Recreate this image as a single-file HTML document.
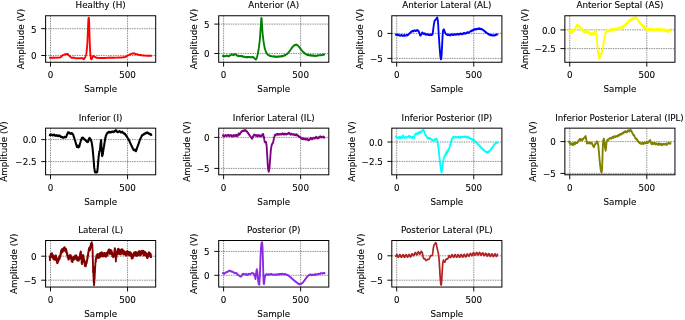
<!DOCTYPE html>
<html><head><meta charset="utf-8"><title>ECG classes</title>
<style>html,body{margin:0;padding:0;background:#fff}svg{display:block}</style></head>
<body>
<svg width="685" height="320" viewBox="0 0 685 320" font-family="'DejaVu Sans', 'Liberation Sans', sans-serif" font-size="8.75" fill="#000"><style>text{stroke:#000;stroke-width:0.1px;paint-order:stroke}</style>
<rect width="685" height="320" fill="#fff"/>
<g>
<path d="M50.50 15.75V62.25M127.55 15.75V62.25M45.60 28.70H155.70M45.60 55.50H155.70" stroke="#000" stroke-opacity="0.8" stroke-width="0.55" stroke-dasharray="1.5 0.9" fill="none"/>
<path d="M49.99 57.73 L50.14 57.70 L50.30 57.79 L50.45 57.68 L50.61 57.77 L50.76 57.73 L50.91 57.67 L51.07 57.75 L51.22 57.66 L51.38 57.73 L51.53 57.66 L51.68 57.66 L51.84 57.72 L51.99 57.80 L52.15 57.66 L52.30 57.67 L52.45 57.75 L52.61 57.81 L52.76 57.74 L52.92 57.70 L53.07 57.81 L53.22 57.62 L53.38 57.78 L53.53 57.67 L53.69 57.63 L53.84 57.63 L53.99 57.66 L54.15 57.76 L54.30 57.63 L54.46 57.71 L54.61 57.72 L54.76 57.66 L54.92 57.69 L55.07 57.59 L55.23 57.59 L55.38 57.62 L55.53 57.71 L55.69 57.66 L55.84 57.63 L56.00 57.68 L56.15 57.65 L56.30 57.62 L56.46 57.72 L56.61 57.69 L56.77 57.60 L56.92 57.66 L57.07 57.65 L57.23 57.72 L57.38 57.69 L57.54 57.60 L57.69 57.73 L57.84 57.56 L58.00 57.61 L58.15 57.68 L58.31 57.56 L58.46 57.62 L58.61 57.53 L58.77 57.65 L58.92 57.67 L59.08 57.63 L59.23 57.69 L59.38 57.57 L59.54 57.64 L59.69 57.60 L59.85 57.52 L60.00 57.42 L60.15 57.42 L60.31 57.36 L60.46 57.19 L60.62 57.15 L60.77 56.95 L60.92 57.00 L61.08 56.85 L61.23 56.74 L61.39 56.53 L61.54 56.25 L61.69 56.09 L61.85 55.97 L62.00 55.67 L62.16 55.59 L62.31 55.46 L62.46 55.38 L62.62 55.29 L62.77 55.36 L62.93 55.16 L63.08 55.12 L63.23 55.07 L63.39 55.10 L63.54 54.87 L63.70 54.87 L63.85 54.82 L64.00 54.81 L64.16 54.73 L64.31 54.66 L64.47 54.48 L64.62 54.43 L64.77 54.38 L64.93 54.46 L65.08 54.44 L65.24 54.25 L65.39 54.23 L65.54 54.21 L65.70 54.17 L65.85 54.19 L66.01 54.18 L66.16 54.09 L66.31 54.01 L66.47 54.07 L66.62 54.04 L66.78 54.06 L66.93 54.12 L67.08 54.05 L67.24 53.99 L67.39 53.99 L67.55 53.99 L67.70 53.93 L67.85 54.28 L68.01 54.43 L68.16 54.62 L68.32 54.78 L68.47 54.88 L68.62 55.06 L68.78 55.17 L68.93 55.44 L69.09 55.48 L69.24 55.63 L69.39 55.81 L69.55 55.96 L69.70 56.15 L69.86 56.24 L70.01 56.39 L70.16 56.57 L70.32 56.72 L70.47 56.92 L70.63 56.94 L70.78 57.20 L70.93 57.24 L71.09 57.24 L71.24 57.36 L71.40 57.47 L71.55 57.56 L71.70 57.61 L71.86 57.85 L72.01 57.97 L72.17 57.92 L72.32 57.89 L72.47 57.78 L72.63 57.76 L72.78 57.77 L72.94 57.73 L73.09 57.81 L73.24 57.64 L73.40 57.59 L73.55 57.74 L73.71 57.63 L73.86 57.55 L74.01 57.67 L74.17 57.61 L74.32 57.75 L74.48 57.88 L74.63 57.90 L74.78 57.91 L74.94 57.86 L75.09 57.92 L75.25 57.92 L75.40 58.09 L75.55 58.08 L75.71 58.17 L75.86 58.12 L76.02 58.14 L76.17 58.30 L76.32 58.37 L76.48 58.34 L76.63 58.33 L76.79 58.33 L76.94 58.32 L77.09 58.21 L77.25 58.27 L77.40 58.24 L77.56 58.17 L77.71 58.17 L77.86 58.22 L78.02 58.22 L78.17 58.31 L78.33 58.36 L78.48 58.26 L78.63 58.36 L78.79 58.37 L78.94 58.36 L79.10 58.24 L79.25 58.21 L79.40 58.21 L79.56 58.21 L79.71 58.21 L79.87 58.29 L80.02 58.35 L80.17 58.34 L80.33 58.26 L80.48 58.30 L80.64 58.33 L80.79 58.19 L80.94 58.31 L81.10 58.36 L81.25 58.34 L81.41 58.33 L81.56 58.28 L81.71 58.22 L81.87 58.35 L82.02 58.26 L82.18 58.35 L82.33 58.39 L82.48 58.28 L82.64 58.28 L82.79 58.39 L82.95 58.39 L83.10 58.47 L83.25 58.65 L83.41 58.84 L83.56 59.18 L83.72 59.35 L83.87 59.24 L84.02 59.14 L84.18 58.94 L84.33 58.64 L84.49 58.35 L84.64 58.15 L84.79 57.81 L84.95 57.52 L85.10 57.45 L85.26 57.12 L85.41 56.67 L85.56 56.26 L85.72 55.67 L85.87 55.27 L86.03 54.76 L86.18 54.15 L86.33 53.66 L86.49 52.65 L86.64 51.19 L86.80 49.80 L86.95 48.28 L87.10 46.86 L87.26 45.35 L87.41 42.33 L87.57 38.36 L87.72 34.53 L87.87 30.69 L88.03 27.35 L88.18 23.95 L88.34 20.74 L88.49 18.13 L88.64 17.87 L88.80 17.60 L88.95 18.98 L89.11 20.57 L89.26 25.12 L89.41 30.91 L89.57 36.89 L89.72 40.91 L89.88 44.70 L90.03 48.48 L90.18 52.17 L90.34 53.76 L90.49 55.24 L90.65 56.68 L90.80 58.16 L90.95 58.95 L91.11 59.10 L91.26 59.11 L91.42 59.18 L91.57 59.34 L91.72 59.00 L91.88 58.64 L92.03 58.32 L92.19 57.98 L92.34 57.52 L92.49 57.28 L92.65 57.04 L92.80 56.81 L92.96 56.63 L93.11 56.35 L93.26 56.15 L93.42 55.91 L93.57 55.96 L93.73 56.05 L93.88 56.23 L94.03 56.38 L94.19 56.38 L94.34 56.58 L94.50 56.79 L94.65 56.90 L94.80 56.84 L94.96 56.93 L95.11 57.08 L95.27 57.09 L95.42 57.22 L95.57 57.27 L95.73 57.48 L95.88 57.59 L96.04 57.69 L96.19 57.56 L96.34 57.69 L96.50 57.70 L96.65 57.62 L96.81 57.79 L96.96 57.83 L97.11 57.70 L97.27 57.87 L97.42 57.78 L97.58 57.82 L97.73 57.94 L97.88 57.93 L98.04 57.82 L98.19 57.89 L98.35 57.93 L98.50 57.92 L98.65 57.91 L98.81 57.96 L98.96 58.06 L99.12 57.94 L99.27 58.07 L99.42 58.07 L99.58 58.00 L99.73 58.06 L99.89 58.12 L100.04 58.09 L100.19 57.99 L100.35 58.17 L100.50 58.13 L100.66 58.16 L100.81 57.98 L100.96 58.01 L101.12 57.96 L101.27 58.10 L101.43 57.99 L101.58 57.96 L101.73 58.01 L101.89 58.11 L102.04 58.08 L102.20 57.97 L102.35 57.94 L102.50 58.09 L102.66 58.01 L102.81 58.03 L102.97 57.91 L103.12 57.90 L103.27 58.02 L103.43 57.96 L103.58 57.88 L103.74 58.05 L103.89 57.99 L104.04 58.01 L104.20 57.87 L104.35 58.01 L104.51 57.85 L104.66 58.01 L104.81 57.92 L104.97 57.89 L105.12 57.93 L105.28 58.00 L105.43 57.86 L105.58 57.83 L105.74 57.90 L105.89 57.84 L106.05 57.81 L106.20 57.81 L106.35 57.79 L106.51 57.81 L106.66 57.83 L106.82 57.82 L106.97 57.91 L107.12 57.81 L107.28 57.85 L107.43 57.78 L107.59 57.80 L107.74 57.73 L107.89 57.78 L108.05 57.72 L108.20 57.86 L108.36 57.82 L108.51 57.74 L108.66 57.79 L108.82 57.88 L108.97 57.71 L109.13 57.85 L109.28 57.77 L109.43 57.77 L109.59 57.84 L109.74 57.75 L109.90 57.77 L110.05 57.80 L110.20 57.86 L110.36 57.72 L110.51 57.82 L110.67 57.79 L110.82 57.78 L110.97 57.73 L111.13 57.71 L111.28 57.65 L111.44 57.66 L111.59 57.65 L111.74 57.78 L111.90 57.68 L112.05 57.66 L112.21 57.64 L112.36 57.79 L112.51 57.79 L112.67 57.75 L112.82 57.67 L112.98 57.66 L113.13 57.67 L113.28 57.70 L113.44 57.64 L113.59 57.69 L113.75 57.65 L113.90 57.79 L114.05 57.79 L114.21 57.70 L114.36 57.64 L114.52 57.78 L114.67 57.65 L114.82 57.65 L114.98 57.58 L115.13 57.65 L115.29 57.67 L115.44 57.67 L115.59 57.61 L115.75 57.67 L115.90 57.56 L116.06 57.61 L116.21 57.58 L116.36 57.64 L116.52 57.56 L116.67 57.56 L116.83 57.61 L116.98 57.59 L117.13 57.66 L117.29 57.65 L117.44 57.69 L117.60 57.67 L117.75 57.68 L117.90 57.71 L118.06 57.61 L118.21 57.59 L118.37 57.72 L118.52 57.55 L118.67 57.66 L118.83 57.64 L118.98 57.52 L119.14 57.68 L119.29 57.69 L119.44 57.63 L119.60 57.65 L119.75 57.65 L119.91 57.51 L120.06 57.57 L120.21 57.56 L120.37 57.62 L120.52 57.60 L120.68 57.59 L120.83 57.53 L120.98 57.59 L121.14 57.53 L121.29 57.53 L121.45 57.42 L121.60 57.37 L121.75 57.38 L121.91 57.42 L122.06 57.36 L122.22 57.49 L122.37 57.43 L122.52 57.43 L122.68 57.42 L122.83 57.42 L122.99 57.37 L123.14 57.26 L123.29 57.41 L123.45 57.39 L123.60 57.33 L123.76 57.33 L123.91 57.34 L124.06 57.22 L124.22 57.34 L124.37 57.23 L124.53 57.19 L124.68 57.15 L124.83 57.16 L124.99 56.98 L125.14 57.00 L125.30 56.97 L125.45 56.79 L125.60 56.68 L125.76 56.62 L125.91 56.58 L126.07 56.51 L126.22 56.40 L126.37 56.32 L126.53 56.13 L126.68 56.06 L126.84 56.00 L126.99 56.02 L127.14 55.85 L127.30 55.82 L127.45 55.62 L127.61 55.55 L127.76 55.51 L127.91 55.51 L128.07 55.43 L128.22 55.35 L128.38 55.19 L128.53 55.15 L128.68 55.06 L128.84 54.98 L128.99 54.82 L129.15 54.90 L129.30 54.68 L129.45 54.75 L129.61 54.67 L129.76 54.42 L129.92 54.45 L130.07 54.46 L130.22 54.43 L130.38 54.26 L130.53 54.16 L130.69 54.09 L130.84 54.18 L130.99 53.97 L131.15 53.98 L131.30 53.83 L131.46 53.85 L131.61 53.87 L131.76 53.64 L131.92 53.72 L132.07 53.61 L132.23 53.67 L132.38 53.62 L132.53 53.51 L132.69 53.62 L132.84 53.53 L133.00 53.42 L133.15 53.40 L133.30 53.48 L133.46 53.46 L133.61 53.41 L133.77 53.39 L133.92 53.47 L134.07 53.51 L134.23 53.65 L134.38 53.52 L134.54 53.72 L134.69 53.77 L134.84 53.67 L135.00 53.87 L135.15 53.87 L135.31 53.95 L135.46 53.87 L135.61 53.93 L135.77 53.97 L135.92 54.13 L136.08 54.09 L136.23 54.09 L136.38 54.14 L136.54 54.15 L136.69 54.14 L136.85 54.19 L137.00 54.38 L137.15 54.30 L137.31 54.47 L137.46 54.37 L137.62 54.42 L137.77 54.50 L137.92 54.48 L138.08 54.55 L138.23 54.71 L138.39 54.73 L138.54 54.76 L138.69 54.76 L138.85 54.85 L139.00 54.90 L139.16 54.86 L139.31 54.93 L139.46 54.83 L139.62 55.00 L139.77 54.97 L139.93 55.05 L140.08 55.05 L140.23 55.00 L140.39 54.98 L140.54 55.18 L140.70 55.04 L140.85 55.13 L141.00 55.13 L141.16 55.14 L141.31 55.26 L141.47 55.33 L141.62 55.21 L141.77 55.31 L141.93 55.26 L142.08 55.34 L142.24 55.33 L142.39 55.30 L142.54 55.33 L142.70 55.36 L142.85 55.52 L143.01 55.45 L143.16 55.40 L143.31 55.55 L143.47 55.58 L143.62 55.48 L143.78 55.43 L143.93 55.45 L144.08 55.44 L144.24 55.50 L144.39 55.46 L144.55 55.50 L144.70 55.51 L144.85 55.59 L145.01 55.66 L145.16 55.64 L145.32 55.59 L145.47 55.60 L145.62 55.63 L145.78 55.61 L145.93 55.61 L146.09 55.57 L146.24 55.62 L146.39 55.77 L146.55 55.61 L146.70 55.70 L146.86 55.73 L147.01 55.79 L147.16 55.67 L147.32 55.69 L147.47 55.70 L147.63 55.74 L147.78 55.76 L147.93 55.86 L148.09 55.84 L148.24 55.85 L148.40 55.68 L148.55 55.68 L148.70 55.81 L148.86 55.85 L149.01 55.77 L149.17 55.79 L149.32 55.67 L149.47 55.75 L149.63 55.86 L149.78 55.84 L149.94 55.84 L150.09 55.87 L150.24 55.72 L150.40 55.69 L150.55 55.70 L150.71 55.78 L150.86 55.81 L151.01 55.86 L151.17 55.82" stroke="#ff0000" stroke-width="1.85" fill="none" stroke-linejoin="round" stroke-linecap="square"/>
<path d="M50.50 62.25v4.4M127.55 62.25v4.4M45.60 28.70h-4.4M45.60 55.50h-4.4" stroke="#000" stroke-width="0.95" fill="none"/>
<rect x="45.60" y="15.75" width="110.10" height="46.50" fill="none" stroke="#000" stroke-width="1.0"/>
<text x="50.50" y="78.35" text-anchor="middle">0</text>
<text x="127.55" y="78.35" text-anchor="middle">500</text>
<text x="36.60" y="32.50" text-anchor="end">5</text>
<text x="36.60" y="59.30" text-anchor="end">0</text>
<text x="100.65" y="8.35" text-anchor="middle">Healthy (H)</text>
<text x="100.65" y="92.25" text-anchor="middle">Sample</text>
<text transform="translate(23.63 39.00) rotate(-90)" text-anchor="middle">Amplitude (V)</text>
</g>
<g>
<path d="M223.60 15.75V62.25M300.65 15.75V62.25M218.70 24.10H328.80M218.70 53.50H328.80" stroke="#000" stroke-opacity="0.8" stroke-width="0.55" stroke-dasharray="1.5 0.9" fill="none"/>
<path d="M222.99 56.00 L223.14 56.07 L223.30 55.97 L223.45 56.03 L223.61 55.85 L223.76 56.17 L223.91 55.97 L224.07 56.27 L224.22 56.19 L224.38 56.07 L224.53 56.03 L224.68 56.10 L224.84 56.28 L224.99 56.33 L225.15 56.12 L225.30 56.04 L225.45 56.16 L225.61 56.12 L225.76 55.98 L225.92 55.86 L226.07 55.95 L226.22 55.65 L226.38 55.70 L226.53 55.70 L226.69 55.84 L226.84 55.67 L226.99 55.85 L227.15 55.76 L227.30 55.74 L227.46 55.82 L227.61 56.19 L227.76 56.16 L227.92 56.08 L228.07 56.04 L228.23 56.31 L228.38 56.46 L228.53 56.37 L228.69 56.20 L228.84 56.25 L229.00 56.25 L229.15 55.86 L229.30 55.68 L229.46 55.69 L229.61 55.62 L229.77 55.61 L229.92 55.31 L230.07 55.44 L230.23 55.32 L230.38 55.13 L230.54 54.92 L230.69 55.13 L230.84 54.78 L231.00 54.89 L231.15 54.56 L231.31 54.47 L231.46 54.59 L231.61 54.31 L231.77 54.48 L231.92 54.33 L232.08 54.28 L232.23 54.37 L232.38 54.53 L232.54 54.70 L232.69 54.89 L232.85 54.65 L233.00 54.83 L233.15 54.83 L233.31 55.21 L233.46 54.96 L233.62 54.84 L233.77 54.75 L233.92 54.79 L234.08 54.90 L234.23 54.81 L234.39 54.65 L234.54 54.67 L234.69 54.55 L234.85 54.21 L235.00 54.06 L235.16 54.29 L235.31 54.33 L235.46 54.15 L235.62 54.51 L235.77 54.50 L235.93 54.61 L236.08 54.70 L236.23 54.74 L236.39 54.78 L236.54 55.00 L236.70 55.14 L236.85 55.48 L237.00 55.22 L237.16 55.64 L237.31 55.41 L237.47 55.55 L237.62 55.81 L237.77 55.89 L237.93 55.81 L238.08 55.73 L238.24 55.98 L238.39 56.02 L238.54 56.27 L238.70 55.97 L238.85 56.03 L239.01 56.23 L239.16 55.87 L239.31 56.01 L239.47 56.16 L239.62 56.13 L239.78 55.83 L239.93 55.82 L240.08 55.82 L240.24 56.16 L240.39 55.88 L240.55 56.07 L240.70 56.12 L240.85 55.88 L241.01 55.86 L241.16 56.17 L241.32 56.08 L241.47 55.98 L241.62 56.20 L241.78 56.08 L241.93 56.11 L242.09 56.04 L242.24 56.38 L242.39 56.49 L242.55 56.41 L242.70 56.58 L242.86 56.25 L243.01 56.38 L243.16 56.52 L243.32 56.75 L243.47 56.79 L243.63 56.60 L243.78 56.59 L243.93 56.70 L244.09 56.77 L244.24 56.98 L244.40 56.73 L244.55 57.02 L244.70 57.03 L244.86 57.11 L245.01 57.13 L245.17 57.10 L245.32 57.03 L245.47 57.07 L245.63 57.13 L245.78 57.34 L245.94 57.10 L246.09 57.13 L246.24 57.33 L246.40 57.11 L246.55 57.02 L246.71 56.98 L246.86 57.17 L247.01 57.06 L247.17 57.30 L247.32 57.24 L247.48 57.26 L247.63 56.95 L247.78 56.86 L247.94 56.84 L248.09 56.98 L248.25 57.05 L248.40 56.92 L248.55 56.84 L248.71 56.94 L248.86 57.04 L249.02 57.08 L249.17 57.13 L249.32 57.19 L249.48 57.14 L249.63 56.94 L249.79 57.25 L249.94 57.05 L250.09 57.18 L250.25 57.13 L250.40 57.29 L250.56 57.10 L250.71 57.14 L250.86 57.16 L251.02 57.12 L251.17 57.39 L251.33 57.24 L251.48 57.11 L251.63 57.11 L251.79 57.33 L251.94 57.11 L252.10 56.97 L252.25 57.18 L252.40 57.09 L252.56 57.20 L252.71 56.82 L252.87 56.94 L253.02 57.12 L253.17 57.26 L253.33 57.41 L253.48 57.18 L253.64 57.41 L253.79 57.46 L253.94 57.61 L254.10 58.05 L254.25 58.02 L254.41 58.28 L254.56 58.18 L254.71 58.52 L254.87 58.51 L255.02 58.58 L255.18 58.95 L255.33 59.17 L255.48 58.98 L255.64 59.33 L255.79 59.50 L255.95 59.48 L256.10 59.23 L256.25 58.83 L256.41 58.55 L256.56 58.26 L256.72 58.09 L256.87 57.80 L257.02 57.11 L257.18 56.34 L257.33 55.77 L257.49 55.22 L257.64 54.33 L257.79 53.69 L257.95 52.94 L258.10 52.28 L258.26 51.28 L258.41 50.19 L258.56 49.30 L258.72 48.52 L258.87 47.69 L259.03 46.60 L259.18 45.10 L259.33 43.85 L259.49 42.77 L259.64 41.38 L259.80 40.04 L259.95 38.68 L260.10 36.62 L260.26 34.06 L260.41 31.85 L260.57 29.46 L260.72 26.97 L260.87 24.59 L261.03 22.07 L261.18 19.25 L261.34 18.01 L261.49 17.96 L261.64 19.61 L261.80 21.56 L261.95 24.31 L262.11 26.51 L262.26 28.88 L262.41 30.65 L262.57 32.77 L262.72 34.53 L262.88 35.97 L263.03 37.11 L263.18 38.52 L263.34 39.75 L263.49 41.06 L263.65 41.93 L263.80 43.10 L263.95 43.84 L264.11 44.74 L264.26 45.44 L264.42 46.34 L264.57 47.27 L264.72 48.28 L264.88 48.58 L265.03 49.19 L265.19 49.76 L265.34 50.27 L265.49 50.42 L265.65 50.84 L265.80 51.61 L265.96 52.07 L266.11 52.18 L266.26 52.25 L266.42 52.85 L266.57 52.89 L266.73 53.34 L266.88 53.48 L267.03 53.81 L267.19 53.79 L267.34 54.29 L267.50 54.31 L267.65 54.59 L267.80 54.85 L267.96 54.93 L268.11 54.75 L268.27 54.85 L268.42 55.00 L268.57 55.13 L268.73 55.16 L268.88 55.14 L269.04 55.27 L269.19 55.55 L269.34 55.70 L269.50 55.44 L269.65 55.73 L269.81 55.89 L269.96 55.69 L270.11 56.08 L270.27 55.82 L270.42 56.05 L270.58 56.06 L270.73 56.12 L270.88 56.02 L271.04 56.10 L271.19 56.19 L271.35 56.16 L271.50 56.28 L271.65 56.23 L271.81 56.26 L271.96 56.12 L272.12 56.39 L272.27 56.37 L272.42 56.30 L272.58 56.54 L272.73 56.58 L272.89 56.48 L273.04 56.40 L273.19 56.55 L273.35 56.43 L273.50 56.46 L273.66 56.59 L273.81 56.46 L273.96 56.60 L274.12 56.64 L274.27 56.45 L274.43 56.70 L274.58 56.48 L274.73 56.75 L274.89 56.77 L275.04 56.67 L275.20 56.50 L275.35 56.68 L275.50 56.64 L275.66 56.87 L275.81 56.55 L275.97 56.85 L276.12 56.91 L276.27 56.81 L276.43 56.85 L276.58 56.61 L276.74 56.93 L276.89 56.74 L277.04 56.93 L277.20 56.92 L277.35 56.63 L277.51 56.88 L277.66 56.93 L277.81 56.57 L277.97 56.66 L278.12 56.81 L278.28 56.55 L278.43 56.83 L278.58 56.56 L278.74 56.76 L278.89 56.47 L279.05 56.60 L279.20 56.74 L279.35 56.44 L279.51 56.44 L279.66 56.52 L279.82 56.43 L279.97 56.30 L280.12 56.34 L280.28 56.31 L280.43 56.60 L280.59 56.48 L280.74 56.55 L280.89 56.24 L281.05 56.47 L281.20 56.18 L281.36 56.33 L281.51 56.35 L281.66 56.22 L281.82 56.40 L281.97 56.22 L282.13 56.19 L282.28 56.26 L282.43 55.90 L282.59 56.21 L282.74 56.02 L282.90 55.88 L283.05 56.00 L283.20 55.74 L283.36 55.98 L283.51 55.77 L283.67 55.64 L283.82 55.75 L283.97 55.58 L284.13 55.43 L284.28 55.61 L284.44 55.28 L284.59 55.54 L284.74 55.27 L284.90 55.38 L285.05 55.47 L285.21 55.21 L285.36 55.14 L285.51 54.90 L285.67 54.67 L285.82 54.58 L285.98 54.53 L286.13 54.61 L286.28 54.43 L286.44 54.36 L286.59 54.41 L286.75 54.01 L286.90 53.94 L287.05 54.01 L287.21 53.65 L287.36 53.54 L287.52 53.58 L287.67 53.32 L287.82 53.24 L287.98 53.00 L288.13 52.96 L288.29 52.78 L288.44 52.44 L288.59 52.42 L288.75 52.18 L288.90 51.85 L289.06 51.99 L289.21 51.53 L289.36 51.31 L289.52 51.10 L289.67 51.13 L289.83 51.04 L289.98 50.82 L290.13 50.46 L290.29 50.17 L290.44 49.83 L290.60 49.84 L290.75 49.57 L290.90 49.25 L291.06 49.13 L291.21 48.82 L291.37 48.78 L291.52 48.46 L291.67 48.03 L291.83 48.05 L291.98 47.47 L292.14 47.43 L292.29 47.18 L292.44 46.96 L292.60 46.73 L292.75 46.87 L292.91 46.41 L293.06 46.47 L293.21 46.47 L293.37 46.00 L293.52 45.86 L293.68 45.87 L293.83 45.68 L293.98 45.58 L294.14 45.49 L294.29 45.13 L294.45 45.14 L294.60 45.08 L294.75 44.93 L294.91 45.21 L295.06 45.12 L295.22 45.04 L295.37 44.71 L295.52 44.99 L295.68 44.90 L295.83 44.74 L295.99 44.80 L296.14 44.63 L296.29 44.55 L296.45 44.59 L296.60 44.73 L296.76 44.73 L296.91 44.93 L297.06 45.18 L297.22 45.25 L297.37 45.39 L297.53 45.42 L297.68 45.33 L297.83 45.53 L297.99 45.56 L298.14 45.85 L298.30 45.94 L298.45 46.03 L298.60 46.37 L298.76 46.70 L298.91 46.59 L299.07 47.05 L299.22 46.89 L299.37 47.18 L299.53 47.37 L299.68 47.76 L299.84 48.03 L299.99 48.15 L300.14 48.18 L300.30 48.60 L300.45 48.58 L300.61 48.75 L300.76 49.22 L300.91 49.31 L301.07 49.53 L301.22 49.72 L301.38 50.05 L301.53 50.05 L301.68 50.40 L301.84 50.54 L301.99 50.81 L302.15 50.84 L302.30 51.13 L302.45 51.22 L302.61 51.27 L302.76 51.39 L302.92 51.70 L303.07 51.64 L303.22 52.13 L303.38 51.97 L303.53 52.08 L303.69 52.27 L303.84 52.75 L303.99 52.67 L304.15 52.74 L304.30 52.85 L304.46 53.01 L304.61 53.39 L304.76 53.46 L304.92 53.57 L305.07 53.67 L305.23 53.49 L305.38 53.79 L305.53 53.78 L305.69 54.05 L305.84 54.14 L306.00 54.25 L306.15 54.01 L306.30 54.42 L306.46 54.52 L306.61 54.62 L306.77 54.37 L306.92 54.50 L307.07 54.55 L307.23 54.59 L307.38 54.96 L307.54 54.98 L307.69 54.94 L307.84 55.06 L308.00 55.01 L308.15 54.91 L308.31 54.87 L308.46 54.91 L308.61 55.21 L308.77 55.02 L308.92 55.11 L309.08 55.18 L309.23 55.06 L309.38 55.19 L309.54 55.24 L309.69 55.45 L309.85 55.34 L310.00 55.36 L310.15 55.63 L310.31 55.45 L310.46 55.60 L310.62 55.52 L310.77 55.29 L310.92 55.45 L311.08 55.47 L311.23 55.61 L311.39 55.45 L311.54 55.60 L311.69 55.54 L311.85 55.42 L312.00 55.68 L312.16 55.38 L312.31 55.68 L312.46 55.43 L312.62 55.37 L312.77 55.46 L312.93 55.69 L313.08 55.78 L313.23 55.40 L313.39 55.61 L313.54 55.63 L313.70 55.77 L313.85 55.55 L314.00 55.69 L314.16 55.65 L314.31 55.87 L314.47 55.66 L314.62 55.95 L314.77 55.71 L314.93 55.70 L315.08 55.92 L315.24 55.86 L315.39 55.72 L315.54 55.95 L315.70 55.75 L315.85 56.05 L316.01 55.98 L316.16 55.97 L316.31 55.87 L316.47 55.72 L316.62 55.69 L316.78 55.65 L316.93 55.81 L317.08 55.45 L317.24 55.73 L317.39 55.34 L317.55 55.37 L317.70 55.35 L317.85 55.57 L318.01 55.36 L318.16 55.28 L318.32 55.44 L318.47 55.17 L318.62 55.26 L318.78 55.29 L318.93 55.37 L319.09 55.37 L319.24 55.33 L319.39 55.21 L319.55 55.20 L319.70 55.14 L319.86 55.41 L320.01 55.34 L320.16 55.37 L320.32 55.14 L320.47 55.25 L320.63 55.38 L320.78 55.30 L320.93 55.10 L321.09 55.19 L321.24 55.32 L321.40 55.02 L321.55 54.96 L321.70 54.97 L321.86 55.08 L322.01 55.10 L322.17 54.78 L322.32 54.74 L322.47 54.74 L322.63 54.73 L322.78 54.77 L322.94 54.58 L323.09 54.61 L323.24 54.51 L323.40 54.80 L323.55 54.70 L323.71 54.45 L323.86 54.79 L324.01 54.45 L324.17 54.56" stroke="#008000" stroke-width="1.85" fill="none" stroke-linejoin="round" stroke-linecap="square"/>
<path d="M223.60 62.25v4.4M300.65 62.25v4.4M218.70 24.10h-4.4M218.70 53.50h-4.4" stroke="#000" stroke-width="0.95" fill="none"/>
<rect x="218.70" y="15.75" width="110.10" height="46.50" fill="none" stroke="#000" stroke-width="1.0"/>
<text x="223.60" y="78.35" text-anchor="middle">0</text>
<text x="300.65" y="78.35" text-anchor="middle">500</text>
<text x="209.70" y="27.90" text-anchor="end">5</text>
<text x="209.70" y="57.30" text-anchor="end">0</text>
<text x="273.75" y="8.35" text-anchor="middle">Anterior (A)</text>
<text x="273.75" y="92.25" text-anchor="middle">Sample</text>
<text transform="translate(196.73 39.00) rotate(-90)" text-anchor="middle">Amplitude (V)</text>
</g>
<g>
<path d="M396.70 15.75V62.25M473.75 15.75V62.25M391.80 33.40H501.90M391.80 58.40H501.90" stroke="#000" stroke-opacity="0.8" stroke-width="0.55" stroke-dasharray="1.5 0.9" fill="none"/>
<path d="M395.99 34.59 L396.14 34.60 L396.30 34.67 L396.45 34.61 L396.61 34.58 L396.76 34.96 L396.91 34.76 L397.07 34.94 L397.22 35.16 L397.38 35.00 L397.53 35.14 L397.68 35.30 L397.84 35.16 L397.99 34.97 L398.15 34.97 L398.30 34.79 L398.45 34.52 L398.61 34.72 L398.76 34.67 L398.92 35.01 L399.07 35.25 L399.22 35.09 L399.38 35.32 L399.53 35.56 L399.69 35.49 L399.84 35.51 L399.99 35.93 L400.15 35.93 L400.30 35.77 L400.46 35.63 L400.61 35.62 L400.76 35.42 L400.92 35.30 L401.07 35.09 L401.23 34.91 L401.38 35.09 L401.53 34.89 L401.69 35.20 L401.84 35.53 L402.00 35.61 L402.15 35.67 L402.30 35.56 L402.46 35.78 L402.61 35.91 L402.77 35.97 L402.92 35.74 L403.07 35.81 L403.23 35.86 L403.38 35.32 L403.54 35.50 L403.69 35.48 L403.84 35.15 L404.00 35.14 L404.15 35.51 L404.31 35.02 L404.46 35.40 L404.61 35.25 L404.77 35.70 L404.92 35.87 L405.08 35.70 L405.23 35.52 L405.38 35.80 L405.54 35.68 L405.69 35.69 L405.85 35.47 L406.00 35.45 L406.15 35.47 L406.31 35.19 L406.46 35.03 L406.62 35.25 L406.77 34.83 L406.92 35.15 L407.08 35.01 L407.23 35.27 L407.39 34.93 L407.54 35.48 L407.69 35.15 L407.85 35.01 L408.00 35.13 L408.16 35.01 L408.31 34.59 L408.46 34.64 L408.62 34.45 L408.77 34.42 L408.93 34.02 L409.08 33.78 L409.23 33.56 L409.39 33.70 L409.54 33.66 L409.70 33.26 L409.85 32.92 L410.00 33.12 L410.16 32.72 L410.31 32.46 L410.47 32.25 L410.62 32.49 L410.77 32.35 L410.93 32.09 L411.08 31.84 L411.24 31.74 L411.39 31.39 L411.54 31.68 L411.70 31.16 L411.85 31.17 L412.01 31.18 L412.16 31.21 L412.31 31.04 L412.47 30.98 L412.62 31.17 L412.78 30.95 L412.93 31.42 L413.08 31.17 L413.24 31.50 L413.39 31.09 L413.55 31.03 L413.70 30.83 L413.85 30.80 L414.01 30.53 L414.16 30.29 L414.32 30.61 L414.47 30.39 L414.62 30.40 L414.78 30.48 L414.93 30.62 L415.09 30.63 L415.24 30.79 L415.39 30.85 L415.55 30.71 L415.70 31.04 L415.86 30.94 L416.01 30.40 L416.16 30.80 L416.32 30.79 L416.47 30.66 L416.63 30.22 L416.78 30.58 L416.93 30.40 L417.09 30.05 L417.24 30.09 L417.40 30.69 L417.55 30.55 L417.70 30.35 L417.86 30.30 L418.01 30.36 L418.17 30.45 L418.32 30.87 L418.47 30.92 L418.63 31.11 L418.78 31.87 L418.94 32.11 L419.09 32.04 L419.24 32.78 L419.40 33.03 L419.55 33.60 L419.71 33.99 L419.86 34.59 L420.01 34.99 L420.17 35.48 L420.32 35.41 L420.48 35.50 L420.63 35.20 L420.78 35.12 L420.94 34.73 L421.09 34.79 L421.25 34.39 L421.40 33.97 L421.55 33.70 L421.71 33.38 L421.86 33.34 L422.02 32.82 L422.17 32.81 L422.32 32.47 L422.48 32.83 L422.63 32.99 L422.79 33.16 L422.94 33.51 L423.09 33.15 L423.25 33.81 L423.40 33.74 L423.56 33.95 L423.71 34.05 L423.86 34.11 L424.02 33.80 L424.17 33.78 L424.33 34.07 L424.48 33.50 L424.63 33.80 L424.79 33.76 L424.94 33.36 L425.10 33.82 L425.25 33.97 L425.40 34.24 L425.56 33.99 L425.71 34.50 L425.87 34.33 L426.02 34.43 L426.17 34.80 L426.33 34.34 L426.48 34.69 L426.64 34.58 L426.79 34.35 L426.94 34.60 L427.10 34.25 L427.25 34.26 L427.41 34.23 L427.56 34.32 L427.71 34.04 L427.87 34.29 L428.02 34.40 L428.18 34.59 L428.33 34.87 L428.48 34.67 L428.64 35.10 L428.79 34.97 L428.95 35.14 L429.10 34.92 L429.25 34.98 L429.41 35.19 L429.56 34.92 L429.72 34.92 L429.87 34.57 L430.02 34.48 L430.18 34.40 L430.33 34.55 L430.49 34.66 L430.64 34.82 L430.79 34.45 L430.95 34.94 L431.10 35.12 L431.26 34.99 L431.41 34.77 L431.56 35.00 L431.72 34.71 L431.87 34.64 L432.03 34.90 L432.18 34.53 L432.33 34.38 L432.49 34.28 L432.64 33.93 L432.80 32.59 L432.95 31.44 L433.10 30.29 L433.26 29.18 L433.41 27.96 L433.57 26.86 L433.72 25.42 L433.87 24.54 L434.03 23.55 L434.18 23.05 L434.34 21.98 L434.49 21.35 L434.64 20.59 L434.80 20.46 L434.95 20.42 L435.11 20.15 L435.26 19.85 L435.41 20.00 L435.57 19.85 L435.72 19.55 L435.88 19.18 L436.03 19.02 L436.18 18.91 L436.34 18.66 L436.49 18.54 L436.65 18.49 L436.80 18.48 L436.95 17.76 L437.11 17.89 L437.26 17.39 L437.42 18.12 L437.57 19.23 L437.72 19.78 L437.88 20.68 L438.03 22.35 L438.19 24.65 L438.34 27.44 L438.49 30.13 L438.65 32.91 L438.80 35.50 L438.96 37.72 L439.11 39.99 L439.26 42.11 L439.42 44.75 L439.57 46.80 L439.73 48.74 L439.88 50.58 L440.03 52.50 L440.19 54.83 L440.34 55.90 L440.50 57.37 L440.65 57.80 L440.80 59.24 L440.96 59.33 L441.11 58.30 L441.27 57.76 L441.42 56.51 L441.57 55.85 L441.73 52.66 L441.88 49.50 L442.04 46.85 L442.19 43.73 L442.34 40.74 L442.50 37.58 L442.65 34.71 L442.81 33.39 L442.96 31.80 L443.11 30.25 L443.27 30.30 L443.42 29.66 L443.58 29.86 L443.73 29.48 L443.88 29.28 L444.04 29.59 L444.19 30.28 L444.35 30.69 L444.50 30.63 L444.65 31.23 L444.81 31.95 L444.96 32.07 L445.12 32.95 L445.27 33.15 L445.42 33.05 L445.58 33.39 L445.73 33.66 L445.89 33.74 L446.04 34.03 L446.19 33.87 L446.35 34.41 L446.50 34.27 L446.66 34.53 L446.81 34.61 L446.96 34.57 L447.12 34.64 L447.27 34.96 L447.43 35.15 L447.58 35.14 L447.73 34.97 L447.89 34.77 L448.04 34.59 L448.20 35.10 L448.35 34.90 L448.50 34.94 L448.66 34.60 L448.81 34.73 L448.97 34.95 L449.12 34.94 L449.27 34.88 L449.43 34.78 L449.58 34.93 L449.74 35.28 L449.89 35.05 L450.04 35.31 L450.20 35.34 L450.35 35.46 L450.51 35.29 L450.66 34.86 L450.81 34.58 L450.97 34.62 L451.12 34.60 L451.28 34.58 L451.43 34.60 L451.58 34.54 L451.74 34.11 L451.89 34.66 L452.05 34.73 L452.20 34.84 L452.35 34.74 L452.51 34.63 L452.66 35.06 L452.82 35.11 L452.97 35.04 L453.12 35.08 L453.28 34.65 L453.43 34.39 L453.59 34.58 L453.74 34.63 L453.89 34.17 L454.05 34.41 L454.20 34.42 L454.36 34.04 L454.51 34.34 L454.66 34.46 L454.82 34.41 L454.97 34.33 L455.13 34.43 L455.28 34.81 L455.43 34.91 L455.59 34.77 L455.74 34.47 L455.90 34.82 L456.05 34.73 L456.20 34.33 L456.36 34.46 L456.51 34.57 L456.67 34.49 L456.82 34.19 L456.97 34.09 L457.13 34.08 L457.28 33.80 L457.44 33.85 L457.59 33.89 L457.74 34.24 L457.90 34.09 L458.05 34.25 L458.21 34.20 L458.36 34.32 L458.51 34.14 L458.67 34.13 L458.82 34.75 L458.98 34.36 L459.13 34.12 L459.28 34.36 L459.44 34.37 L459.59 33.92 L459.75 34.10 L459.90 33.88 L460.05 33.90 L460.21 33.53 L460.36 33.46 L460.52 33.96 L460.67 33.89 L460.82 33.71 L460.98 33.80 L461.13 33.67 L461.29 34.02 L461.44 33.86 L461.59 34.22 L461.75 34.15 L461.90 34.23 L462.06 34.36 L462.21 33.98 L462.36 33.78 L462.52 33.78 L462.67 33.68 L462.83 33.53 L462.98 33.42 L463.13 33.63 L463.29 33.72 L463.44 33.38 L463.60 33.58 L463.75 33.47 L463.90 32.88 L464.06 33.23 L464.21 33.14 L464.37 33.01 L464.52 33.54 L464.67 33.15 L464.83 33.36 L464.98 33.44 L465.14 33.66 L465.29 33.52 L465.44 33.39 L465.60 33.41 L465.75 33.15 L465.91 33.54 L466.06 33.46 L466.21 32.91 L466.37 32.71 L466.52 32.74 L466.68 32.71 L466.83 32.95 L466.98 32.86 L467.14 32.72 L467.29 32.21 L467.45 32.67 L467.60 32.64 L467.75 32.61 L467.91 32.83 L468.06 32.29 L468.22 32.36 L468.37 32.74 L468.52 32.87 L468.68 32.73 L468.83 32.51 L468.99 32.61 L469.14 32.59 L469.29 32.07 L469.45 32.08 L469.60 31.92 L469.76 31.72 L469.91 31.81 L470.06 31.50 L470.22 31.41 L470.37 31.23 L470.53 31.43 L470.68 30.96 L470.83 31.32 L470.99 30.95 L471.14 30.79 L471.30 31.27 L471.45 30.78 L471.60 31.15 L471.76 31.04 L471.91 31.00 L472.07 30.48 L472.22 30.61 L472.37 30.30 L472.53 30.71 L472.68 30.57 L472.84 30.34 L472.99 30.15 L473.14 29.99 L473.30 30.18 L473.45 29.88 L473.61 29.88 L473.76 29.50 L473.91 29.47 L474.07 29.34 L474.22 29.70 L474.38 29.58 L474.53 29.30 L474.68 29.70 L474.84 29.31 L474.99 29.37 L475.15 29.18 L475.30 29.22 L475.45 29.53 L475.61 29.20 L475.76 29.07 L475.92 29.23 L476.07 29.10 L476.22 29.42 L476.38 28.91 L476.53 29.40 L476.69 28.82 L476.84 29.29 L476.99 29.12 L477.15 28.82 L477.30 28.95 L477.46 28.80 L477.61 28.75 L477.76 28.69 L477.92 28.75 L478.07 29.10 L478.23 29.07 L478.38 29.00 L478.53 28.47 L478.69 28.56 L478.84 28.89 L479.00 28.41 L479.15 28.84 L479.30 28.61 L479.46 29.05 L479.61 28.50 L479.77 29.01 L479.92 28.76 L480.07 28.67 L480.23 28.62 L480.38 29.15 L480.54 28.99 L480.69 28.82 L480.84 29.00 L481.00 29.32 L481.15 28.93 L481.31 29.18 L481.46 28.95 L481.61 29.00 L481.77 29.39 L481.92 29.38 L482.08 29.10 L482.23 29.08 L482.38 29.21 L482.54 29.65 L482.69 29.70 L482.85 29.69 L483.00 29.78 L483.15 30.14 L483.31 30.32 L483.46 30.51 L483.62 30.50 L483.77 30.39 L483.92 30.43 L484.08 30.96 L484.23 30.88 L484.39 31.19 L484.54 30.92 L484.69 31.49 L484.85 31.33 L485.00 31.76 L485.16 31.90 L485.31 31.80 L485.46 31.63 L485.62 32.29 L485.77 32.16 L485.93 32.52 L486.08 32.28 L486.23 32.35 L486.39 32.86 L486.54 32.71 L486.70 32.71 L486.85 32.96 L487.00 33.21 L487.16 32.98 L487.31 33.39 L487.47 33.44 L487.62 33.57 L487.77 33.43 L487.93 33.88 L488.08 34.03 L488.24 34.15 L488.39 33.92 L488.54 34.24 L488.70 34.14 L488.85 34.45 L489.01 34.12 L489.16 34.68 L489.31 34.81 L489.47 34.61 L489.62 34.70 L489.78 34.78 L489.93 34.86 L490.08 34.63 L490.24 35.28 L490.39 34.91 L490.55 34.95 L490.70 34.92 L490.85 35.02 L491.01 35.38 L491.16 34.92 L491.32 34.97 L491.47 35.35 L491.62 35.06 L491.78 34.97 L491.93 35.34 L492.09 35.34 L492.24 35.33 L492.39 35.47 L492.55 35.14 L492.70 35.63 L492.86 35.57 L493.01 35.19 L493.16 35.27 L493.32 35.53 L493.47 35.56 L493.63 35.46 L493.78 35.39 L493.93 35.54 L494.09 35.32 L494.24 35.53 L494.40 35.63 L494.55 35.14 L494.70 35.34 L494.86 35.38 L495.01 34.97 L495.17 35.30 L495.32 35.31 L495.47 34.92 L495.63 34.86 L495.78 35.04 L495.94 34.77 L496.09 34.62 L496.24 34.87 L496.40 34.69 L496.55 34.35 L496.71 34.22 L496.86 34.20 L497.01 34.18 L497.17 34.43" stroke="#0000ff" stroke-width="1.85" fill="none" stroke-linejoin="round" stroke-linecap="square"/>
<path d="M396.70 62.25v4.4M473.75 62.25v4.4M391.80 33.40h-4.4M391.80 58.40h-4.4" stroke="#000" stroke-width="0.95" fill="none"/>
<rect x="391.80" y="15.75" width="110.10" height="46.50" fill="none" stroke="#000" stroke-width="1.0"/>
<text x="396.70" y="78.35" text-anchor="middle">0</text>
<text x="473.75" y="78.35" text-anchor="middle">500</text>
<text x="382.80" y="37.20" text-anchor="end">0</text>
<text x="382.80" y="62.20" text-anchor="end">−5</text>
<text x="446.85" y="8.35" text-anchor="middle">Anterior Lateral (AL)</text>
<text x="446.85" y="92.25" text-anchor="middle">Sample</text>
<text transform="translate(362.50 39.00) rotate(-90)" text-anchor="middle">Amplitude (V)</text>
</g>
<g>
<path d="M569.75 15.75V62.25M646.80 15.75V62.25M564.85 29.90H674.95M564.85 48.60H674.95" stroke="#000" stroke-opacity="0.8" stroke-width="0.55" stroke-dasharray="1.5 0.9" fill="none"/>
<path d="M568.99 31.13 L569.14 31.51 L569.30 31.56 L569.45 31.81 L569.61 30.75 L569.76 31.70 L569.91 32.61 L570.07 32.60 L570.22 31.37 L570.38 31.52 L570.53 31.72 L570.68 31.16 L570.84 31.29 L570.99 30.42 L571.15 30.87 L571.30 31.07 L571.45 30.38 L571.61 30.66 L571.76 32.07 L571.92 31.85 L572.07 32.20 L572.22 31.80 L572.38 32.08 L572.53 32.04 L572.69 31.89 L572.84 30.37 L572.99 31.19 L573.15 30.44 L573.30 30.94 L573.46 30.14 L573.61 30.42 L573.76 30.90 L573.92 30.30 L574.07 29.59 L574.23 29.91 L574.38 29.66 L574.53 30.37 L574.69 29.19 L574.84 29.10 L575.00 29.51 L575.15 28.31 L575.30 28.71 L575.46 28.93 L575.61 27.86 L575.77 27.11 L575.92 27.07 L576.07 26.85 L576.23 25.92 L576.38 25.57 L576.54 25.28 L576.69 25.23 L576.84 25.10 L577.00 24.67 L577.15 24.80 L577.31 24.76 L577.46 25.70 L577.61 26.38 L577.77 26.21 L577.92 26.35 L578.08 26.41 L578.23 25.46 L578.38 26.04 L578.54 25.41 L578.69 25.49 L578.85 25.90 L579.00 25.98 L579.15 26.04 L579.31 26.24 L579.46 26.51 L579.62 27.28 L579.77 27.30 L579.92 27.83 L580.08 27.12 L580.23 27.87 L580.39 28.89 L580.54 28.09 L580.69 28.78 L580.85 28.79 L581.00 28.57 L581.16 29.81 L581.31 28.82 L581.46 29.70 L581.62 28.83 L581.77 28.80 L581.93 30.20 L582.08 29.66 L582.23 29.21 L582.39 29.88 L582.54 30.12 L582.70 30.75 L582.85 29.90 L583.00 30.24 L583.16 31.57 L583.31 31.37 L583.47 30.64 L583.62 31.14 L583.77 31.37 L583.93 32.09 L584.08 32.20 L584.24 32.78 L584.39 32.73 L584.54 32.09 L584.70 32.29 L584.85 32.14 L585.01 32.02 L585.16 31.41 L585.31 31.77 L585.47 31.73 L585.62 32.13 L585.78 30.95 L585.93 32.22 L586.08 30.91 L586.24 32.20 L586.39 31.99 L586.55 31.93 L586.70 32.62 L586.85 31.79 L587.01 31.34 L587.16 31.72 L587.32 31.66 L587.47 31.03 L587.62 30.46 L587.78 30.86 L587.93 31.18 L588.09 31.91 L588.24 31.53 L588.39 32.00 L588.55 32.57 L588.70 32.51 L588.86 32.53 L589.01 33.39 L589.16 33.60 L589.32 33.16 L589.47 33.18 L589.63 32.88 L589.78 33.19 L589.93 33.05 L590.09 33.82 L590.24 33.91 L590.40 33.20 L590.55 34.61 L590.70 33.73 L590.86 34.64 L591.01 34.71 L591.17 34.98 L591.32 33.81 L591.47 34.05 L591.63 34.71 L591.78 33.15 L591.94 33.10 L592.09 33.81 L592.24 33.58 L592.40 34.15 L592.55 33.80 L592.71 33.39 L592.86 34.16 L593.01 33.43 L593.17 33.47 L593.32 33.78 L593.48 33.34 L593.63 33.33 L593.78 33.75 L593.94 33.40 L594.09 34.08 L594.25 33.34 L594.40 32.79 L594.55 31.80 L594.71 31.93 L594.86 31.66 L595.02 31.64 L595.17 31.43 L595.32 31.69 L595.48 31.60 L595.63 30.69 L595.79 31.39 L595.94 32.45 L596.09 33.82 L596.25 33.54 L596.40 35.20 L596.56 37.20 L596.71 37.71 L596.86 39.49 L597.02 42.08 L597.17 43.38 L597.33 44.42 L597.48 45.31 L597.63 48.11 L597.79 49.32 L597.94 51.07 L598.10 52.88 L598.25 54.26 L598.40 54.68 L598.56 55.33 L598.71 56.63 L598.87 58.06 L599.02 58.52 L599.17 57.83 L599.33 57.64 L599.48 58.17 L599.64 57.94 L599.79 57.30 L599.94 57.48 L600.10 56.06 L600.25 54.27 L600.41 54.01 L600.56 54.49 L600.71 53.85 L600.87 54.59 L601.02 53.61 L601.18 54.21 L601.33 54.95 L601.48 53.96 L601.64 53.50 L601.79 52.16 L601.95 52.06 L602.10 51.56 L602.25 50.34 L602.41 50.18 L602.56 49.23 L602.72 49.20 L602.87 47.76 L603.02 46.64 L603.18 45.25 L603.33 44.39 L603.49 44.43 L603.64 42.46 L603.79 41.52 L603.95 40.71 L604.10 40.35 L604.26 39.91 L604.41 38.65 L604.56 38.03 L604.72 36.03 L604.87 35.18 L605.03 35.63 L605.18 34.14 L605.33 34.00 L605.49 32.77 L605.64 32.08 L605.80 31.83 L605.95 31.16 L606.10 32.05 L606.26 31.13 L606.41 30.64 L606.57 30.70 L606.72 30.49 L606.87 29.86 L607.03 31.09 L607.18 30.50 L607.34 31.07 L607.49 30.29 L607.64 30.63 L607.80 30.09 L607.95 29.81 L608.11 31.28 L608.26 31.21 L608.41 30.25 L608.57 31.08 L608.72 30.84 L608.88 29.92 L609.03 30.30 L609.18 30.77 L609.34 30.07 L609.49 31.00 L609.65 30.07 L609.80 30.51 L609.95 31.25 L610.11 30.66 L610.26 31.00 L610.42 31.55 L610.57 30.57 L610.72 30.70 L610.88 29.46 L611.03 28.99 L611.19 28.93 L611.34 28.56 L611.49 29.97 L611.65 29.03 L611.80 29.62 L611.96 29.06 L612.11 29.88 L612.26 29.79 L612.42 29.74 L612.57 29.13 L612.73 29.14 L612.88 30.19 L613.03 29.35 L613.19 29.10 L613.34 28.94 L613.50 29.01 L613.65 28.91 L613.80 28.62 L613.96 29.67 L614.11 29.19 L614.27 28.93 L614.42 29.85 L614.57 28.90 L614.73 29.23 L614.88 30.17 L615.04 28.96 L615.19 29.35 L615.34 29.87 L615.50 29.70 L615.65 28.55 L615.81 28.75 L615.96 29.22 L616.11 28.55 L616.27 29.38 L616.42 28.22 L616.58 29.45 L616.73 28.77 L616.88 28.37 L617.04 28.77 L617.19 28.29 L617.35 29.25 L617.50 28.57 L617.65 29.57 L617.81 28.95 L617.96 28.48 L618.12 28.17 L618.27 28.64 L618.42 27.89 L618.58 28.83 L618.73 27.51 L618.89 28.02 L619.04 28.08 L619.19 27.68 L619.35 28.52 L619.50 27.94 L619.66 28.42 L619.81 28.31 L619.96 27.94 L620.12 28.10 L620.27 27.63 L620.43 27.62 L620.58 28.54 L620.73 27.54 L620.89 27.93 L621.04 26.89 L621.20 27.46 L621.35 26.99 L621.50 27.06 L621.66 26.68 L621.81 26.34 L621.97 26.78 L622.12 26.68 L622.27 26.56 L622.43 27.54 L622.58 26.88 L622.74 27.12 L622.89 27.96 L623.04 27.59 L623.20 27.57 L623.35 27.34 L623.51 25.98 L623.66 26.02 L623.81 25.43 L623.97 26.28 L624.12 26.06 L624.28 25.39 L624.43 25.37 L624.58 25.65 L624.74 25.60 L624.89 24.76 L625.05 25.60 L625.20 24.69 L625.35 25.02 L625.51 24.19 L625.66 23.97 L625.82 25.13 L625.97 24.73 L626.12 24.58 L626.28 23.39 L626.43 23.27 L626.59 23.35 L626.74 23.29 L626.89 23.35 L627.05 23.32 L627.20 22.62 L627.36 22.90 L627.51 23.27 L627.66 22.38 L627.82 23.28 L627.97 22.70 L628.13 22.78 L628.28 21.85 L628.43 21.87 L628.59 22.00 L628.74 21.20 L628.90 20.37 L629.05 21.43 L629.20 21.07 L629.36 20.02 L629.51 19.36 L629.67 20.58 L629.82 20.23 L629.97 19.37 L630.13 19.72 L630.28 19.55 L630.44 20.67 L630.59 19.78 L630.74 20.95 L630.90 20.72 L631.05 19.51 L631.21 20.33 L631.36 19.69 L631.51 20.11 L631.67 20.08 L631.82 19.05 L631.98 18.59 L632.13 19.81 L632.28 18.84 L632.44 19.58 L632.59 19.12 L632.75 19.12 L632.90 19.19 L633.05 18.79 L633.21 18.43 L633.36 17.71 L633.52 18.67 L633.67 18.19 L633.82 18.28 L633.98 18.91 L634.13 17.59 L634.29 18.57 L634.44 17.38 L634.59 18.39 L634.75 18.52 L634.90 17.61 L635.06 18.07 L635.21 18.75 L635.36 18.21 L635.52 18.06 L635.67 17.59 L635.83 17.29 L635.98 17.77 L636.13 17.85 L636.29 17.56 L636.44 17.85 L636.60 17.69 L636.75 18.72 L636.90 18.78 L637.06 18.20 L637.21 18.32 L637.37 18.87 L637.52 18.88 L637.67 19.89 L637.83 19.21 L637.98 19.38 L638.14 20.57 L638.29 19.64 L638.44 20.57 L638.60 20.46 L638.75 21.49 L638.91 21.32 L639.06 21.92 L639.21 21.23 L639.37 22.28 L639.52 22.43 L639.68 22.42 L639.83 23.12 L639.98 23.43 L640.14 22.48 L640.29 22.97 L640.45 23.29 L640.60 23.23 L640.75 23.15 L640.91 23.66 L641.06 23.68 L641.22 24.64 L641.37 24.39 L641.52 24.01 L641.68 24.50 L641.83 24.88 L641.99 24.87 L642.14 24.71 L642.29 24.71 L642.45 24.77 L642.60 26.49 L642.76 26.26 L642.91 25.34 L643.06 26.51 L643.22 27.09 L643.37 26.57 L643.53 26.00 L643.68 26.76 L643.83 26.83 L643.99 26.59 L644.14 27.31 L644.30 26.59 L644.45 28.16 L644.60 27.84 L644.76 27.93 L644.91 28.53 L645.07 28.20 L645.22 27.67 L645.37 27.78 L645.53 27.72 L645.68 27.66 L645.84 28.97 L645.99 29.19 L646.14 28.44 L646.30 28.37 L646.45 29.21 L646.61 29.66 L646.76 29.91 L646.91 28.79 L647.07 29.80 L647.22 29.91 L647.38 29.80 L647.53 29.16 L647.68 28.97 L647.84 30.02 L647.99 29.25 L648.15 29.35 L648.30 29.68 L648.45 29.42 L648.61 30.15 L648.76 29.14 L648.92 28.76 L649.07 29.54 L649.22 29.58 L649.38 29.82 L649.53 29.58 L649.69 29.83 L649.84 29.84 L649.99 29.05 L650.15 29.00 L650.30 28.49 L650.46 28.81 L650.61 29.35 L650.76 28.64 L650.92 29.71 L651.07 28.96 L651.23 29.50 L651.38 30.44 L651.53 29.12 L651.69 29.13 L651.84 29.86 L652.00 29.43 L652.15 30.22 L652.30 29.01 L652.46 30.29 L652.61 30.25 L652.77 30.08 L652.92 29.44 L653.07 29.15 L653.23 29.69 L653.38 29.39 L653.54 29.19 L653.69 29.12 L653.84 29.34 L654.00 29.76 L654.15 30.08 L654.31 30.27 L654.46 29.14 L654.61 29.42 L654.77 29.71 L654.92 29.97 L655.08 29.69 L655.23 29.47 L655.38 29.20 L655.54 29.49 L655.69 29.62 L655.85 30.34 L656.00 30.15 L656.15 29.99 L656.31 30.07 L656.46 29.96 L656.62 29.32 L656.77 29.53 L656.92 28.31 L657.08 29.39 L657.23 29.38 L657.39 28.97 L657.54 29.50 L657.69 30.20 L657.85 29.54 L658.00 29.90 L658.16 29.43 L658.31 29.60 L658.46 30.56 L658.62 29.18 L658.77 29.38 L658.93 30.10 L659.08 29.67 L659.23 29.03 L659.39 29.89 L659.54 29.37 L659.70 29.64 L659.85 29.31 L660.00 29.43 L660.16 29.43 L660.31 29.22 L660.47 28.86 L660.62 29.06 L660.77 30.29 L660.93 29.83 L661.08 29.23 L661.24 30.52 L661.39 29.64 L661.54 29.48 L661.70 30.26 L661.85 29.91 L662.01 30.23 L662.16 30.27 L662.31 29.69 L662.47 30.18 L662.62 29.38 L662.78 29.96 L662.93 30.02 L663.08 29.15 L663.24 29.61 L663.39 29.01 L663.55 29.56 L663.70 30.30 L663.85 29.86 L664.01 30.18 L664.16 30.31 L664.32 29.35 L664.47 30.81 L664.62 30.44 L664.78 29.51 L664.93 30.74 L665.09 30.10 L665.24 29.81 L665.39 31.13 L665.55 30.56 L665.70 30.96 L665.86 30.00 L666.01 31.08 L666.16 29.99 L666.32 30.34 L666.47 30.62 L666.63 30.11 L666.78 31.10 L666.93 30.56 L667.09 30.78 L667.24 31.50 L667.40 31.13 L667.55 31.95 L667.70 31.60 L667.86 32.08 L668.01 31.66 L668.17 32.30 L668.32 32.07 L668.47 30.77 L668.63 31.52 L668.78 30.70 L668.94 31.20 L669.09 30.89 L669.24 30.94 L669.40 29.68 L669.55 30.02 L669.71 30.54 L669.86 30.82 L670.01 30.40 L670.17 29.25" stroke="#ffff00" stroke-width="1.85" fill="none" stroke-linejoin="round" stroke-linecap="square"/>
<path d="M569.75 62.25v4.4M646.80 62.25v4.4M564.85 29.90h-4.4M564.85 48.60h-4.4" stroke="#000" stroke-width="0.95" fill="none"/>
<rect x="564.85" y="15.75" width="110.10" height="46.50" fill="none" stroke="#000" stroke-width="1.0"/>
<text x="569.75" y="78.35" text-anchor="middle">0</text>
<text x="646.80" y="78.35" text-anchor="middle">500</text>
<text x="555.85" y="33.70" text-anchor="end">0.0</text>
<text x="555.85" y="52.40" text-anchor="end">−2.5</text>
<text x="619.90" y="8.35" text-anchor="middle">Anterior Septal (AS)</text>
<text x="619.90" y="92.25" text-anchor="middle">Sample</text>
<text transform="translate(527.71 39.00) rotate(-90)" text-anchor="middle">Amplitude (V)</text>
</g>
<g>
<path d="M50.50 128.15V174.80M127.55 128.15V174.80M45.60 139.60H155.70M45.60 161.60H155.70" stroke="#000" stroke-opacity="0.8" stroke-width="0.55" stroke-dasharray="1.5 0.9" fill="none"/>
<path d="M49.99 135.06 L50.14 134.67 L50.30 134.95 L50.45 135.08 L50.61 134.56 L50.76 135.09 L50.91 134.88 L51.07 134.55 L51.22 134.47 L51.38 134.65 L51.53 135.00 L51.68 134.89 L51.84 134.64 L51.99 134.66 L52.15 134.80 L52.30 135.36 L52.45 135.00 L52.61 135.34 L52.76 135.12 L52.92 135.32 L53.07 135.03 L53.22 134.79 L53.38 135.22 L53.53 134.91 L53.69 134.94 L53.84 134.94 L53.99 134.98 L54.15 134.44 L54.30 134.78 L54.46 134.77 L54.61 135.13 L54.76 135.50 L54.92 135.57 L55.07 135.15 L55.23 135.36 L55.38 135.86 L55.53 135.73 L55.69 135.49 L55.84 135.51 L56.00 135.24 L56.15 135.69 L56.30 135.33 L56.46 135.63 L56.61 135.41 L56.77 135.10 L56.92 135.37 L57.07 135.39 L57.23 135.96 L57.38 135.84 L57.54 135.56 L57.69 135.74 L57.84 135.97 L58.00 136.12 L58.15 136.14 L58.31 135.95 L58.46 135.87 L58.61 135.57 L58.77 135.91 L58.92 135.68 L59.08 135.41 L59.23 135.66 L59.38 136.05 L59.54 135.51 L59.69 135.69 L59.85 136.18 L60.00 136.01 L60.15 136.13 L60.31 136.40 L60.46 136.35 L60.62 136.68 L60.77 136.70 L60.92 137.04 L61.08 137.11 L61.23 136.47 L61.39 136.88 L61.54 137.07 L61.69 137.18 L61.85 137.15 L62.00 137.09 L62.16 137.17 L62.31 137.06 L62.46 137.08 L62.62 137.51 L62.77 137.65 L62.93 137.77 L63.08 137.67 L63.23 137.48 L63.39 137.79 L63.54 137.70 L63.70 137.46 L63.85 137.47 L64.00 137.20 L64.16 137.26 L64.31 137.08 L64.47 136.76 L64.62 136.88 L64.77 136.90 L64.93 137.40 L65.08 137.08 L65.24 137.04 L65.39 136.99 L65.54 137.03 L65.70 137.15 L65.85 137.03 L66.01 136.88 L66.16 137.13 L66.31 136.47 L66.47 136.11 L66.62 135.84 L66.78 135.29 L66.93 134.84 L67.08 134.37 L67.24 134.12 L67.39 133.72 L67.55 133.60 L67.70 133.06 L67.85 132.92 L68.01 132.24 L68.16 132.72 L68.32 132.56 L68.47 132.28 L68.62 132.43 L68.78 132.79 L68.93 133.15 L69.09 132.79 L69.24 133.16 L69.39 132.99 L69.55 133.38 L69.70 132.89 L69.86 133.26 L70.01 133.63 L70.16 133.27 L70.32 133.33 L70.47 133.25 L70.63 133.42 L70.78 133.46 L70.93 133.72 L71.09 133.34 L71.24 133.43 L71.40 133.25 L71.55 133.50 L71.70 133.64 L71.86 133.45 L72.01 133.17 L72.17 133.70 L72.32 134.01 L72.47 133.91 L72.63 133.70 L72.78 134.36 L72.94 134.57 L73.09 134.57 L73.24 134.84 L73.40 135.28 L73.55 135.94 L73.71 136.58 L73.86 136.83 L74.01 137.48 L74.17 137.49 L74.32 138.09 L74.48 138.90 L74.63 139.34 L74.78 139.68 L74.94 140.39 L75.09 140.66 L75.25 140.98 L75.40 141.74 L75.55 142.00 L75.71 142.92 L75.86 143.23 L76.02 143.85 L76.17 144.44 L76.32 144.71 L76.48 145.37 L76.63 145.57 L76.79 146.72 L76.94 146.98 L77.09 146.95 L77.25 145.92 L77.40 145.92 L77.56 145.61 L77.71 145.47 L77.86 145.77 L78.02 146.27 L78.17 146.72 L78.33 147.46 L78.48 146.88 L78.63 147.29 L78.79 146.91 L78.94 146.89 L79.10 146.82 L79.25 146.70 L79.40 146.19 L79.56 145.46 L79.71 144.58 L79.87 144.17 L80.02 143.23 L80.17 143.03 L80.33 142.55 L80.48 142.05 L80.64 141.21 L80.79 141.02 L80.94 140.65 L81.10 139.92 L81.25 139.44 L81.41 139.25 L81.56 139.19 L81.71 138.26 L81.87 137.82 L82.02 137.94 L82.18 138.02 L82.33 138.05 L82.48 137.71 L82.64 138.10 L82.79 137.51 L82.95 137.84 L83.10 137.57 L83.25 137.74 L83.41 138.02 L83.56 138.17 L83.72 138.68 L83.87 138.93 L84.02 138.82 L84.18 139.45 L84.33 139.15 L84.49 139.10 L84.64 139.22 L84.79 139.72 L84.95 139.95 L85.10 139.57 L85.26 139.64 L85.41 140.31 L85.56 140.09 L85.72 140.76 L85.87 140.58 L86.03 140.83 L86.18 140.78 L86.33 141.25 L86.49 141.17 L86.64 141.23 L86.80 141.79 L86.95 141.38 L87.10 141.86 L87.26 141.45 L87.41 141.91 L87.57 141.79 L87.72 142.16 L87.87 141.65 L88.03 141.74 L88.18 141.17 L88.34 141.07 L88.49 140.62 L88.64 139.94 L88.80 139.19 L88.95 138.78 L89.11 138.56 L89.26 138.45 L89.41 138.07 L89.57 137.82 L89.72 138.33 L89.88 138.45 L90.03 138.42 L90.18 139.11 L90.34 138.77 L90.49 139.22 L90.65 139.20 L90.80 140.11 L90.95 140.53 L91.11 140.51 L91.26 141.26 L91.42 141.72 L91.57 141.76 L91.72 142.63 L91.88 143.66 L92.03 144.87 L92.19 145.28 L92.34 146.57 L92.49 147.70 L92.65 149.14 L92.80 150.77 L92.96 152.52 L93.11 153.61 L93.26 155.84 L93.42 157.24 L93.57 159.29 L93.73 161.20 L93.88 162.78 L94.03 165.31 L94.19 167.39 L94.34 168.13 L94.50 169.17 L94.65 170.47 L94.80 171.63 L94.96 171.39 L95.11 172.39 L95.27 171.88 L95.42 172.31 L95.57 171.89 L95.73 171.96 L95.88 172.34 L96.04 171.95 L96.19 172.15 L96.34 172.53 L96.50 172.34 L96.65 172.40 L96.81 172.42 L96.96 171.71 L97.11 171.80 L97.27 172.01 L97.42 170.47 L97.58 168.55 L97.73 167.42 L97.88 165.76 L98.04 164.03 L98.19 161.80 L98.35 159.74 L98.50 158.41 L98.65 156.31 L98.81 155.55 L98.96 153.87 L99.12 152.97 L99.27 151.66 L99.42 151.48 L99.58 150.92 L99.73 150.89 L99.89 150.13 L100.04 149.24 L100.19 147.53 L100.35 145.72 L100.50 144.35 L100.66 143.05 L100.81 142.12 L100.96 140.49 L101.12 140.10 L101.27 143.40 L101.43 146.11 L101.58 148.77 L101.73 150.92 L101.89 153.32 L102.04 155.84 L102.20 155.95 L102.35 155.43 L102.50 155.25 L102.66 154.68 L102.81 154.04 L102.97 152.83 L103.12 151.50 L103.27 150.90 L103.43 149.79 L103.58 148.64 L103.74 147.72 L103.89 146.90 L104.04 146.18 L104.20 145.18 L104.35 144.15 L104.51 143.00 L104.66 142.02 L104.81 141.16 L104.97 140.63 L105.12 139.29 L105.28 138.44 L105.43 137.84 L105.58 137.03 L105.74 137.02 L105.89 135.71 L106.05 135.51 L106.20 135.37 L106.35 134.59 L106.51 134.53 L106.66 134.06 L106.82 133.66 L106.97 133.32 L107.12 133.01 L107.28 133.39 L107.43 133.22 L107.59 133.17 L107.74 132.44 L107.89 132.76 L108.05 132.37 L108.20 132.46 L108.36 132.33 L108.51 132.13 L108.66 132.55 L108.82 131.83 L108.97 132.31 L109.13 132.35 L109.28 132.07 L109.43 132.09 L109.59 132.34 L109.74 131.85 L109.90 132.16 L110.05 132.28 L110.20 132.07 L110.36 132.34 L110.51 132.15 L110.67 132.29 L110.82 132.38 L110.97 132.41 L111.13 132.09 L111.28 132.23 L111.44 132.09 L111.59 131.79 L111.74 131.98 L111.90 131.66 L112.05 132.04 L112.21 131.65 L112.36 131.85 L112.51 131.75 L112.67 131.75 L112.82 131.61 L112.98 131.60 L113.13 132.18 L113.28 131.94 L113.44 131.98 L113.59 131.99 L113.75 132.08 L113.90 131.56 L114.05 131.40 L114.21 131.73 L114.36 131.37 L114.52 131.38 L114.67 131.39 L114.82 131.32 L114.98 131.20 L115.13 130.52 L115.29 130.65 L115.44 130.86 L115.59 130.75 L115.75 130.16 L115.90 130.10 L116.06 130.37 L116.21 130.47 L116.36 130.86 L116.52 131.37 L116.67 131.38 L116.83 131.54 L116.98 131.39 L117.13 131.65 L117.29 132.11 L117.44 131.93 L117.60 131.80 L117.75 131.86 L117.90 132.12 L118.06 132.13 L118.21 131.74 L118.37 132.05 L118.52 131.75 L118.67 131.78 L118.83 131.51 L118.98 131.52 L119.14 131.42 L119.29 131.38 L119.44 131.04 L119.60 131.15 L119.75 131.52 L119.91 131.28 L120.06 131.48 L120.21 131.97 L120.37 131.78 L120.52 131.93 L120.68 131.99 L120.83 132.52 L120.98 132.02 L121.14 132.36 L121.29 132.48 L121.45 131.98 L121.60 132.09 L121.75 132.31 L121.91 132.15 L122.06 131.94 L122.22 131.67 L122.37 132.07 L122.52 132.13 L122.68 132.49 L122.83 132.31 L122.99 132.50 L123.14 132.79 L123.29 133.02 L123.45 132.81 L123.60 132.95 L123.76 133.20 L123.91 133.56 L124.06 133.16 L124.22 133.82 L124.37 133.76 L124.53 133.63 L124.68 133.96 L124.83 133.84 L124.99 133.82 L125.14 134.50 L125.30 134.42 L125.45 134.72 L125.60 134.89 L125.76 135.37 L125.91 135.46 L126.07 135.14 L126.22 135.73 L126.37 135.87 L126.53 136.10 L126.68 136.60 L126.84 136.53 L126.99 136.80 L127.14 137.33 L127.30 137.24 L127.45 137.51 L127.61 137.77 L127.76 138.26 L127.91 138.42 L128.07 138.74 L128.22 138.77 L128.38 138.79 L128.53 139.50 L128.68 139.69 L128.84 140.11 L128.99 140.43 L129.15 140.32 L129.30 140.74 L129.45 140.99 L129.61 141.85 L129.76 141.70 L129.92 142.04 L130.07 142.85 L130.22 143.06 L130.38 143.01 L130.53 143.76 L130.69 144.08 L130.84 144.23 L130.99 144.24 L131.15 144.99 L131.30 145.11 L131.46 145.54 L131.61 146.15 L131.76 146.37 L131.92 146.76 L132.07 146.59 L132.23 147.07 L132.38 147.55 L132.53 147.54 L132.69 148.57 L132.84 148.42 L133.00 148.68 L133.15 148.97 L133.30 149.19 L133.46 149.87 L133.61 149.91 L133.77 150.14 L133.92 150.21 L134.07 149.85 L134.23 149.92 L134.38 150.21 L134.54 150.06 L134.69 150.00 L134.84 149.48 L135.00 149.65 L135.15 149.80 L135.31 150.39 L135.46 150.54 L135.61 150.86 L135.77 151.13 L135.92 151.20 L136.08 150.64 L136.23 150.53 L136.38 149.70 L136.54 149.80 L136.69 149.13 L136.85 148.37 L137.00 148.09 L137.15 147.79 L137.31 147.24 L137.46 146.88 L137.62 146.25 L137.77 145.76 L137.92 145.68 L138.08 144.92 L138.23 144.80 L138.39 144.45 L138.54 143.89 L138.69 143.39 L138.85 143.31 L139.00 142.51 L139.16 142.35 L139.31 141.32 L139.46 141.12 L139.62 140.80 L139.77 139.93 L139.93 140.08 L140.08 139.16 L140.23 139.17 L140.39 138.52 L140.54 138.68 L140.70 138.07 L140.85 137.88 L141.00 137.36 L141.16 137.17 L141.31 136.86 L141.47 136.29 L141.62 135.92 L141.77 136.05 L141.93 135.35 L142.08 135.78 L142.24 135.16 L142.39 134.97 L142.54 134.85 L142.70 135.22 L142.85 135.22 L143.01 134.73 L143.16 134.79 L143.31 134.42 L143.47 134.80 L143.62 134.57 L143.78 134.12 L143.93 133.97 L144.08 134.34 L144.24 133.81 L144.39 134.29 L144.55 133.82 L144.70 133.67 L144.85 133.80 L145.01 133.50 L145.16 133.55 L145.32 133.15 L145.47 133.56 L145.62 133.04 L145.78 133.28 L145.93 132.73 L146.09 133.14 L146.24 133.23 L146.39 132.78 L146.55 132.49 L146.70 132.69 L146.86 132.84 L147.01 132.51 L147.16 132.69 L147.32 132.44 L147.47 132.78 L147.63 133.04 L147.78 132.91 L147.93 133.16 L148.09 132.84 L148.24 133.42 L148.40 133.00 L148.55 133.64 L148.70 133.77 L148.86 133.80 L149.01 133.59 L149.17 133.50 L149.32 133.62 L149.47 133.98 L149.63 133.88 L149.78 134.26 L149.94 133.75 L150.09 134.10 L150.24 134.44 L150.40 134.34 L150.55 134.37 L150.71 134.13 L150.86 134.25 L151.01 134.41 L151.17 134.93" stroke="#000000" stroke-width="2.05" fill="none" stroke-linejoin="round" stroke-linecap="square"/>
<path d="M50.50 174.80v4.4M127.55 174.80v4.4M45.60 139.60h-4.4M45.60 161.60h-4.4" stroke="#000" stroke-width="0.95" fill="none"/>
<rect x="45.60" y="128.15" width="110.10" height="46.65" fill="none" stroke="#000" stroke-width="1.0"/>
<text x="50.50" y="190.90" text-anchor="middle">0</text>
<text x="127.55" y="190.90" text-anchor="middle">500</text>
<text x="36.60" y="143.40" text-anchor="end">0.0</text>
<text x="36.60" y="165.40" text-anchor="end">−2.5</text>
<text x="100.65" y="120.75" text-anchor="middle">Inferior (I)</text>
<text x="100.65" y="204.80" text-anchor="middle">Sample</text>
<text transform="translate(7.36 151.48) rotate(-90)" text-anchor="middle">Amplitude (V)</text>
</g>
<g>
<path d="M223.60 128.15V174.80M300.65 128.15V174.80M218.70 137.40H328.80M218.70 168.40H328.80" stroke="#000" stroke-opacity="0.8" stroke-width="0.55" stroke-dasharray="1.5 0.9" fill="none"/>
<path d="M222.99 135.63 L223.14 135.19 L223.30 135.93 L223.45 135.25 L223.61 135.87 L223.76 136.32 L223.91 135.87 L224.07 136.53 L224.22 136.39 L224.38 135.87 L224.53 136.01 L224.68 136.00 L224.84 135.70 L224.99 136.03 L225.15 135.41 L225.30 135.84 L225.45 135.29 L225.61 134.97 L225.76 135.43 L225.92 135.09 L226.07 135.58 L226.22 135.87 L226.38 135.77 L226.53 135.73 L226.69 135.42 L226.84 135.93 L226.99 135.62 L227.15 136.00 L227.30 135.42 L227.46 135.70 L227.61 135.39 L227.76 135.29 L227.92 135.43 L228.07 134.87 L228.23 134.76 L228.38 135.43 L228.53 135.00 L228.69 135.58 L228.84 135.72 L229.00 135.48 L229.15 135.30 L229.30 135.36 L229.46 136.19 L229.61 135.62 L229.77 135.92 L229.92 135.88 L230.07 135.43 L230.23 135.67 L230.38 135.32 L230.54 135.57 L230.69 135.47 L230.84 135.27 L231.00 135.06 L231.15 135.36 L231.31 135.30 L231.46 135.35 L231.61 135.56 L231.77 136.25 L231.92 136.03 L232.08 136.50 L232.23 135.82 L232.38 136.66 L232.54 136.14 L232.69 136.29 L232.85 135.98 L233.00 135.97 L233.15 135.44 L233.31 135.80 L233.46 135.14 L233.62 135.13 L233.77 134.96 L233.92 135.37 L234.08 135.56 L234.23 135.43 L234.39 136.05 L234.54 135.40 L234.69 135.92 L234.85 135.69 L235.00 136.05 L235.16 136.10 L235.31 135.92 L235.46 135.22 L235.62 135.27 L235.77 135.48 L235.93 135.71 L236.08 134.74 L236.23 135.15 L236.39 135.22 L236.54 135.45 L236.70 135.14 L236.85 135.68 L237.00 135.48 L237.16 136.01 L237.31 135.30 L237.47 136.26 L237.62 135.90 L237.77 135.58 L237.93 134.93 L238.08 134.71 L238.24 134.80 L238.39 134.39 L238.54 133.55 L238.70 133.56 L238.85 133.48 L239.01 133.63 L239.16 133.76 L239.31 133.96 L239.47 134.64 L239.62 134.76 L239.78 134.35 L239.93 133.81 L240.08 133.57 L240.24 133.56 L240.39 133.42 L240.55 133.03 L240.70 132.71 L240.85 132.16 L241.01 132.39 L241.16 132.44 L241.32 132.23 L241.47 131.45 L241.62 131.86 L241.78 131.38 L241.93 131.05 L242.09 131.68 L242.24 131.34 L242.39 131.33 L242.55 130.71 L242.70 131.25 L242.86 131.27 L243.01 131.17 L243.16 130.95 L243.32 130.95 L243.47 130.89 L243.63 130.66 L243.78 130.48 L243.93 130.79 L244.09 130.72 L244.24 130.76 L244.40 130.20 L244.55 130.76 L244.70 130.38 L244.86 130.79 L245.01 130.08 L245.17 130.89 L245.32 130.76 L245.47 130.32 L245.63 130.88 L245.78 130.38 L245.94 130.38 L246.09 130.72 L246.24 130.64 L246.40 130.99 L246.55 131.48 L246.71 131.39 L246.86 131.53 L247.01 131.36 L247.17 131.83 L247.32 131.98 L247.48 132.14 L247.63 132.63 L247.78 132.78 L247.94 132.66 L248.09 132.63 L248.25 133.39 L248.40 133.82 L248.55 133.63 L248.71 134.11 L248.86 134.59 L249.02 134.80 L249.17 134.35 L249.32 135.03 L249.48 134.81 L249.63 135.10 L249.79 135.94 L249.94 135.79 L250.09 136.16 L250.25 136.23 L250.40 136.33 L250.56 136.43 L250.71 136.76 L250.86 137.40 L251.02 137.41 L251.17 137.32 L251.33 137.32 L251.48 137.64 L251.63 138.18 L251.79 138.10 L251.94 138.46 L252.10 138.74 L252.25 138.28 L252.40 138.48 L252.56 137.50 L252.71 137.79 L252.87 136.80 L253.02 136.47 L253.17 136.68 L253.33 135.78 L253.48 135.40 L253.64 135.74 L253.79 135.23 L253.94 135.23 L254.10 134.53 L254.25 134.36 L254.41 134.90 L254.56 134.71 L254.71 135.34 L254.87 134.83 L255.02 135.61 L255.18 135.22 L255.33 135.66 L255.48 135.14 L255.64 135.24 L255.79 135.88 L255.95 135.39 L256.10 135.66 L256.25 135.10 L256.41 135.32 L256.56 135.25 L256.72 135.81 L256.87 136.24 L257.02 136.08 L257.18 136.11 L257.33 136.63 L257.49 136.39 L257.64 135.98 L257.79 135.24 L257.95 135.53 L258.10 135.16 L258.26 135.42 L258.41 135.00 L258.56 135.43 L258.72 135.55 L258.87 135.48 L259.03 135.76 L259.18 136.06 L259.33 136.31 L259.49 135.84 L259.64 135.62 L259.80 136.06 L259.95 135.14 L260.10 135.73 L260.26 135.49 L260.41 135.52 L260.57 135.57 L260.72 136.00 L260.87 136.28 L261.03 136.29 L261.18 136.46 L261.34 135.81 L261.49 135.87 L261.64 135.49 L261.80 136.02 L261.95 135.76 L262.11 134.88 L262.26 135.07 L262.41 134.91 L262.57 134.28 L262.72 134.44 L262.88 134.60 L263.03 134.35 L263.18 133.87 L263.34 134.56 L263.49 134.83 L263.65 135.75 L263.80 136.33 L263.95 137.57 L264.11 138.28 L264.26 139.42 L264.42 140.30 L264.57 141.04 L264.72 141.99 L264.88 142.07 L265.03 142.36 L265.19 142.29 L265.34 142.26 L265.49 142.48 L265.65 142.55 L265.80 142.37 L265.96 141.98 L266.11 142.57 L266.26 143.68 L266.42 144.77 L266.57 144.90 L266.73 147.74 L266.88 149.79 L267.03 152.49 L267.19 154.82 L267.34 157.61 L267.50 160.25 L267.65 163.15 L267.80 165.20 L267.96 166.55 L268.11 168.54 L268.27 169.88 L268.42 169.98 L268.57 170.86 L268.73 171.74 L268.88 170.95 L269.04 170.32 L269.19 169.67 L269.34 168.89 L269.50 168.01 L269.65 165.33 L269.81 163.22 L269.96 161.80 L270.11 159.34 L270.27 157.63 L270.42 155.40 L270.58 153.73 L270.73 151.52 L270.88 149.57 L271.04 148.96 L271.19 147.74 L271.35 146.86 L271.50 146.00 L271.65 145.36 L271.81 144.55 L271.96 144.24 L272.12 144.36 L272.27 143.65 L272.42 143.28 L272.58 143.43 L272.73 142.95 L272.89 143.25 L273.04 142.07 L273.19 142.16 L273.35 141.31 L273.50 140.50 L273.66 140.34 L273.81 138.97 L273.96 138.18 L274.12 137.25 L274.27 136.96 L274.43 136.68 L274.58 136.15 L274.73 135.45 L274.89 135.34 L275.04 134.60 L275.20 134.72 L275.35 134.97 L275.50 135.21 L275.66 134.86 L275.81 134.86 L275.97 134.88 L276.12 134.46 L276.27 134.87 L276.43 134.62 L276.58 134.18 L276.74 134.15 L276.89 134.44 L277.04 133.95 L277.20 133.73 L277.35 134.38 L277.51 134.15 L277.66 134.22 L277.81 134.43 L277.97 134.71 L278.12 134.10 L278.28 134.36 L278.43 134.19 L278.58 134.57 L278.74 134.58 L278.89 134.81 L279.05 134.57 L279.20 134.41 L279.35 134.18 L279.51 134.26 L279.66 133.91 L279.82 134.35 L279.97 134.27 L280.12 134.35 L280.28 133.77 L280.43 134.28 L280.59 134.39 L280.74 134.20 L280.89 134.60 L281.05 134.63 L281.20 134.53 L281.36 134.55 L281.51 134.32 L281.66 134.45 L281.82 133.70 L281.97 134.14 L282.13 134.06 L282.28 133.90 L282.43 133.52 L282.59 133.28 L282.74 133.84 L282.90 134.11 L283.05 133.69 L283.20 133.72 L283.36 133.80 L283.51 133.76 L283.67 134.36 L283.82 134.71 L283.97 134.58 L284.13 134.14 L284.28 134.41 L284.44 133.80 L284.59 134.46 L284.74 133.95 L284.90 133.63 L285.05 134.15 L285.21 133.67 L285.36 133.82 L285.51 133.66 L285.67 134.05 L285.82 134.19 L285.98 134.45 L286.13 133.80 L286.28 134.55 L286.44 133.94 L286.59 134.06 L286.75 134.35 L286.90 134.01 L287.05 133.93 L287.21 134.06 L287.36 133.67 L287.52 134.11 L287.67 133.51 L287.82 134.00 L287.98 133.89 L288.13 133.57 L288.29 133.04 L288.44 133.63 L288.59 132.88 L288.75 133.23 L288.90 133.09 L289.06 132.68 L289.21 133.12 L289.36 133.38 L289.52 133.46 L289.67 133.50 L289.83 133.80 L289.98 134.08 L290.13 133.95 L290.29 134.63 L290.44 134.70 L290.60 134.47 L290.75 134.56 L290.90 133.94 L291.06 134.48 L291.21 133.61 L291.37 134.04 L291.52 133.81 L291.67 134.17 L291.83 134.46 L291.98 134.56 L292.14 134.41 L292.29 134.38 L292.44 134.32 L292.60 134.56 L292.75 134.41 L292.91 134.29 L293.06 134.74 L293.21 134.51 L293.37 134.40 L293.52 134.14 L293.68 134.56 L293.83 134.06 L293.98 134.16 L294.14 134.50 L294.29 134.71 L294.45 135.03 L294.60 134.90 L294.75 135.16 L294.91 135.21 L295.06 135.11 L295.22 135.19 L295.37 134.56 L295.52 134.65 L295.68 134.43 L295.83 135.16 L295.99 135.00 L296.14 134.87 L296.29 134.51 L296.45 134.55 L296.60 134.39 L296.76 134.93 L296.91 135.37 L297.06 134.87 L297.22 134.75 L297.37 134.98 L297.53 135.26 L297.68 135.86 L297.83 135.89 L297.99 135.69 L298.14 135.49 L298.30 135.61 L298.45 135.77 L298.60 136.45 L298.76 136.29 L298.91 136.87 L299.07 136.91 L299.22 136.92 L299.37 136.75 L299.53 137.18 L299.68 136.67 L299.84 136.77 L299.99 137.29 L300.14 137.36 L300.30 137.21 L300.45 137.36 L300.61 137.27 L300.76 138.18 L300.91 138.12 L301.07 138.45 L301.22 138.59 L301.38 138.22 L301.53 138.60 L301.68 138.40 L301.84 138.90 L301.99 138.99 L302.15 138.39 L302.30 138.32 L302.45 138.54 L302.61 138.91 L302.76 138.76 L302.92 138.47 L303.07 139.25 L303.22 139.24 L303.38 138.91 L303.53 138.49 L303.69 139.21 L303.84 138.85 L303.99 138.40 L304.15 138.59 L304.30 138.82 L304.46 139.02 L304.61 138.69 L304.76 138.95 L304.92 138.67 L305.07 138.82 L305.23 139.53 L305.38 139.18 L305.53 139.04 L305.69 139.59 L305.84 139.29 L306.00 139.31 L306.15 139.47 L306.30 139.51 L306.46 139.48 L306.61 139.46 L306.77 139.15 L306.92 138.73 L307.07 139.25 L307.23 138.61 L307.38 139.14 L307.54 139.23 L307.69 139.63 L307.84 139.82 L308.00 139.55 L308.15 140.07 L308.31 140.26 L308.46 140.22 L308.61 139.91 L308.77 140.45 L308.92 140.01 L309.08 139.38 L309.23 139.38 L309.38 139.90 L309.54 139.07 L309.69 139.10 L309.85 139.34 L310.00 139.25 L310.15 138.97 L310.31 138.95 L310.46 138.20 L310.62 138.14 L310.77 138.81 L310.92 138.62 L311.08 138.01 L311.23 138.10 L311.39 138.35 L311.54 139.04 L311.69 138.48 L311.85 138.96 L312.00 139.27 L312.16 139.09 L312.31 139.27 L312.46 138.57 L312.62 138.35 L312.77 138.11 L312.93 138.66 L313.08 137.96 L313.23 138.63 L313.39 138.28 L313.54 137.71 L313.70 138.30 L313.85 137.76 L314.00 138.11 L314.16 137.79 L314.31 138.44 L314.47 138.57 L314.62 138.63 L314.77 137.85 L314.93 138.56 L315.08 138.14 L315.24 138.23 L315.39 137.78 L315.54 137.74 L315.70 137.56 L315.85 137.59 L316.01 136.79 L316.16 136.61 L316.31 137.15 L316.47 137.08 L316.62 137.33 L316.78 137.13 L316.93 137.95 L317.08 137.45 L317.24 138.33 L317.39 138.47 L317.55 138.27 L317.70 137.89 L317.85 138.28 L318.01 137.81 L318.16 137.93 L318.32 137.57 L318.47 138.27 L318.62 137.81 L318.78 137.55 L318.93 137.22 L319.09 137.68 L319.24 137.67 L319.39 137.56 L319.55 136.77 L319.70 136.89 L319.86 136.72 L320.01 137.02 L320.16 136.35 L320.32 136.82 L320.47 137.23 L320.63 137.12 L320.78 136.51 L320.93 136.65 L321.09 136.76 L321.24 137.36 L321.40 137.35 L321.55 137.32 L321.70 137.18 L321.86 137.06 L322.01 137.17 L322.17 137.13 L322.32 137.29 L322.47 137.05 L322.63 137.03 L322.78 137.06 L322.94 137.00 L323.09 136.97 L323.24 136.43 L323.40 137.09 L323.55 137.32 L323.71 137.02 L323.86 137.50 L324.01 136.95 L324.17 137.71" stroke="#800080" stroke-width="1.85" fill="none" stroke-linejoin="round" stroke-linecap="square"/>
<path d="M223.60 174.80v4.4M300.65 174.80v4.4M218.70 137.40h-4.4M218.70 168.40h-4.4" stroke="#000" stroke-width="0.95" fill="none"/>
<rect x="218.70" y="128.15" width="110.10" height="46.65" fill="none" stroke="#000" stroke-width="1.0"/>
<text x="223.60" y="190.90" text-anchor="middle">0</text>
<text x="300.65" y="190.90" text-anchor="middle">500</text>
<text x="209.70" y="141.20" text-anchor="end">0</text>
<text x="209.70" y="172.20" text-anchor="end">−5</text>
<text x="273.75" y="120.75" text-anchor="middle">Inferior Lateral (IL)</text>
<text x="273.75" y="204.80" text-anchor="middle">Sample</text>
<text transform="translate(190.30 151.48) rotate(-90)" text-anchor="middle">Amplitude (V)</text>
</g>
<g>
<path d="M396.70 128.15V174.80M473.75 128.15V174.80M391.80 142.00H501.90M391.80 161.40H501.90" stroke="#000" stroke-opacity="0.8" stroke-width="0.55" stroke-dasharray="1.5 0.9" fill="none"/>
<path d="M395.99 136.27 L396.14 136.69 L396.30 136.53 L396.45 136.78 L396.61 137.02 L396.76 137.21 L396.91 137.23 L397.07 137.55 L397.22 137.88 L397.38 137.52 L397.53 137.64 L397.68 137.40 L397.84 137.35 L397.99 137.39 L398.15 137.40 L398.30 137.22 L398.45 137.41 L398.61 137.74 L398.76 137.64 L398.92 138.01 L399.07 138.46 L399.22 138.18 L399.38 137.39 L399.53 137.44 L399.69 137.14 L399.84 136.92 L399.99 136.57 L400.15 136.62 L400.30 136.53 L400.46 137.37 L400.61 137.21 L400.76 137.72 L400.92 137.77 L401.07 137.98 L401.23 138.28 L401.38 137.58 L401.53 137.82 L401.69 137.87 L401.84 137.73 L402.00 137.97 L402.15 137.24 L402.30 137.34 L402.46 136.85 L402.61 136.76 L402.77 135.75 L402.92 135.54 L403.07 135.64 L403.23 136.39 L403.38 135.94 L403.54 136.39 L403.69 137.01 L403.84 137.49 L404.00 137.07 L404.15 137.38 L404.31 137.69 L404.46 137.79 L404.61 137.94 L404.77 138.05 L404.92 137.75 L405.08 137.69 L405.23 137.35 L405.38 137.73 L405.54 137.19 L405.69 137.08 L405.85 137.49 L406.00 137.12 L406.15 137.18 L406.31 137.33 L406.46 137.39 L406.62 137.57 L406.77 137.36 L406.92 137.27 L407.08 137.20 L407.23 137.00 L407.39 137.13 L407.54 136.80 L407.69 136.62 L407.85 136.77 L408.00 137.01 L408.16 136.68 L408.31 136.25 L408.46 136.54 L408.62 135.96 L408.77 135.80 L408.93 135.86 L409.08 136.06 L409.23 136.49 L409.39 136.50 L409.54 136.93 L409.70 136.63 L409.85 137.50 L410.00 137.17 L410.16 137.46 L410.31 136.71 L410.47 137.25 L410.62 136.67 L410.77 137.07 L410.93 136.92 L411.08 136.94 L411.24 136.83 L411.39 136.82 L411.54 137.17 L411.70 137.95 L411.85 137.56 L412.01 138.07 L412.16 137.86 L412.31 137.77 L412.47 137.23 L412.62 137.04 L412.78 136.85 L412.93 137.41 L413.08 137.01 L413.24 137.38 L413.39 137.47 L413.55 137.34 L413.70 137.37 L413.85 137.49 L414.01 138.12 L414.16 137.03 L414.32 137.18 L414.47 136.19 L414.62 135.96 L414.78 134.98 L414.93 134.99 L415.09 134.33 L415.24 134.27 L415.39 134.24 L415.55 133.76 L415.70 133.71 L415.86 134.00 L416.01 133.52 L416.16 133.70 L416.32 134.11 L416.47 133.78 L416.63 133.86 L416.78 133.98 L416.93 134.21 L417.09 134.00 L417.24 133.96 L417.40 133.57 L417.55 133.63 L417.70 132.72 L417.86 132.96 L418.01 132.96 L418.17 132.58 L418.32 132.52 L418.47 132.95 L418.63 132.80 L418.78 133.18 L418.94 133.48 L419.09 132.82 L419.24 132.63 L419.40 132.72 L419.55 132.27 L419.71 132.11 L419.86 132.07 L420.01 131.73 L420.17 131.79 L420.32 132.13 L420.48 132.32 L420.63 132.79 L420.78 132.59 L420.94 132.31 L421.09 132.21 L421.25 132.37 L421.40 131.96 L421.55 131.95 L421.71 131.77 L421.86 131.43 L422.02 130.62 L422.17 131.13 L422.32 130.64 L422.48 130.26 L422.63 130.05 L422.79 130.45 L422.94 129.78 L423.09 129.76 L423.25 130.01 L423.40 130.64 L423.56 130.37 L423.71 130.69 L423.86 130.26 L424.02 130.86 L424.17 131.30 L424.33 131.74 L424.48 132.65 L424.63 132.92 L424.79 133.09 L424.94 134.14 L425.10 134.10 L425.25 134.22 L425.40 134.44 L425.56 135.31 L425.71 135.46 L425.87 135.28 L426.02 135.84 L426.17 136.26 L426.33 136.30 L426.48 136.27 L426.64 136.69 L426.79 137.03 L426.94 137.33 L427.10 137.18 L427.25 137.96 L427.41 138.33 L427.56 138.43 L427.71 138.58 L427.87 138.15 L428.02 138.54 L428.18 137.92 L428.33 137.92 L428.48 138.18 L428.64 138.38 L428.79 137.69 L428.95 137.76 L429.10 137.69 L429.25 138.09 L429.41 137.93 L429.56 138.05 L429.72 138.57 L429.87 138.51 L430.02 138.88 L430.18 138.52 L430.33 138.82 L430.49 138.37 L430.64 139.19 L430.79 138.70 L430.95 138.97 L431.10 139.07 L431.26 139.50 L431.41 139.21 L431.56 139.69 L431.72 139.50 L431.87 139.29 L432.03 139.90 L432.18 139.51 L432.33 140.26 L432.49 139.94 L432.64 139.87 L432.80 140.58 L432.95 140.18 L433.10 140.35 L433.26 140.40 L433.41 140.77 L433.57 140.35 L433.72 140.74 L433.87 140.67 L434.03 141.09 L434.18 140.17 L434.34 140.40 L434.49 139.86 L434.64 139.76 L434.80 139.59 L434.95 139.48 L435.11 138.97 L435.26 139.00 L435.41 138.85 L435.57 139.47 L435.72 138.77 L435.88 138.71 L436.03 139.03 L436.18 139.13 L436.34 139.43 L436.49 138.81 L436.65 139.01 L436.80 139.01 L436.95 139.48 L437.11 139.99 L437.26 140.57 L437.42 141.57 L437.57 142.00 L437.72 143.07 L437.88 144.11 L438.03 144.52 L438.19 146.02 L438.34 146.75 L438.49 147.81 L438.65 149.85 L438.80 150.55 L438.96 151.87 L439.11 153.62 L439.26 155.16 L439.42 157.24 L439.57 158.71 L439.73 159.72 L439.88 161.16 L440.03 162.76 L440.19 164.07 L440.34 165.19 L440.50 166.24 L440.65 167.07 L440.80 168.33 L440.96 169.71 L441.11 170.30 L441.27 171.13 L441.42 171.86 L441.57 172.57 L441.73 171.26 L441.88 170.32 L442.04 170.13 L442.19 169.02 L442.34 167.58 L442.50 166.64 L442.65 164.94 L442.81 163.58 L442.96 162.45 L443.11 161.69 L443.27 160.93 L443.42 159.56 L443.58 159.21 L443.73 158.62 L443.88 158.04 L444.04 157.74 L444.19 157.38 L444.35 156.28 L444.50 156.19 L444.65 155.89 L444.81 155.46 L444.96 155.12 L445.12 154.90 L445.27 155.68 L445.42 155.69 L445.58 155.40 L445.73 154.76 L445.89 154.33 L446.04 152.88 L446.19 152.20 L446.35 152.58 L446.50 152.91 L446.66 152.76 L446.81 153.55 L446.96 153.27 L447.12 152.75 L447.27 152.06 L447.43 150.78 L447.58 150.08 L447.73 150.30 L447.89 150.57 L448.04 150.62 L448.20 150.93 L448.35 150.81 L448.50 150.21 L448.66 149.32 L448.81 149.10 L448.97 148.88 L449.12 148.28 L449.27 147.80 L449.43 147.77 L449.58 147.25 L449.74 146.73 L449.89 146.38 L450.04 145.39 L450.20 145.30 L450.35 144.27 L450.51 143.82 L450.66 143.68 L450.81 142.91 L450.97 142.35 L451.12 141.58 L451.28 140.95 L451.43 140.43 L451.58 140.27 L451.74 139.28 L451.89 139.37 L452.05 138.63 L452.20 138.22 L452.35 138.42 L452.51 138.04 L452.66 138.04 L452.82 137.85 L452.97 137.42 L453.12 136.90 L453.28 136.62 L453.43 137.14 L453.59 137.40 L453.74 137.14 L453.89 137.08 L454.05 137.13 L454.20 137.37 L454.36 137.75 L454.51 137.12 L454.66 137.22 L454.82 137.17 L454.97 137.45 L455.13 137.60 L455.28 136.75 L455.43 136.74 L455.59 137.34 L455.74 137.45 L455.90 136.87 L456.05 137.09 L456.20 137.32 L456.36 137.24 L456.51 137.39 L456.67 137.52 L456.82 137.42 L456.97 137.26 L457.13 137.20 L457.28 137.19 L457.44 137.06 L457.59 137.41 L457.74 137.39 L457.90 136.96 L458.05 137.31 L458.21 137.18 L458.36 136.92 L458.51 137.12 L458.67 136.95 L458.82 137.62 L458.98 137.41 L459.13 137.08 L459.28 137.23 L459.44 137.74 L459.59 137.55 L459.75 137.73 L459.90 137.27 L460.05 137.64 L460.21 137.57 L460.36 136.93 L460.52 137.24 L460.67 136.85 L460.82 137.19 L460.98 137.25 L461.13 137.28 L461.29 136.87 L461.44 136.80 L461.59 137.29 L461.75 137.25 L461.90 136.95 L462.06 137.03 L462.21 137.38 L462.36 136.97 L462.52 137.35 L462.67 137.00 L462.83 136.98 L462.98 137.07 L463.13 137.12 L463.29 137.23 L463.44 136.64 L463.60 137.16 L463.75 136.71 L463.90 136.73 L464.06 136.97 L464.21 136.97 L464.37 136.88 L464.52 137.07 L464.67 136.47 L464.83 136.52 L464.98 136.83 L465.14 136.58 L465.29 136.58 L465.44 136.71 L465.60 137.22 L465.75 137.35 L465.91 137.33 L466.06 137.60 L466.21 137.55 L466.37 137.13 L466.52 137.10 L466.68 137.38 L466.83 136.81 L466.98 137.21 L467.14 136.76 L467.29 136.69 L467.45 137.02 L467.60 136.73 L467.75 137.43 L467.91 137.47 L468.06 137.21 L468.22 137.08 L468.37 137.09 L468.52 137.48 L468.68 137.57 L468.83 137.52 L468.99 137.88 L469.14 137.80 L469.29 138.08 L469.45 137.62 L469.60 137.67 L469.76 138.00 L469.91 138.15 L470.06 138.04 L470.22 138.45 L470.37 138.17 L470.53 138.33 L470.68 138.53 L470.83 138.80 L470.99 138.92 L471.14 138.68 L471.30 138.81 L471.45 139.28 L471.60 139.37 L471.76 139.24 L471.91 138.94 L472.07 139.34 L472.22 139.60 L472.37 139.43 L472.53 139.35 L472.68 140.22 L472.84 140.28 L472.99 139.74 L473.14 140.09 L473.30 140.29 L473.45 140.11 L473.61 140.00 L473.76 140.62 L473.91 140.72 L474.07 140.53 L474.22 140.33 L474.38 140.69 L474.53 140.56 L474.68 141.37 L474.84 140.76 L474.99 141.06 L475.15 141.56 L475.30 141.17 L475.45 141.27 L475.61 141.37 L475.76 141.60 L475.92 142.05 L476.07 142.44 L476.22 142.06 L476.38 142.22 L476.53 142.85 L476.69 142.73 L476.84 142.82 L476.99 142.80 L477.15 143.05 L477.30 143.78 L477.46 143.25 L477.61 143.52 L477.76 144.06 L477.92 144.34 L478.07 144.50 L478.23 144.31 L478.38 144.85 L478.53 144.72 L478.69 144.62 L478.84 144.92 L479.00 145.27 L479.15 145.44 L479.30 145.11 L479.46 145.32 L479.61 146.10 L479.77 145.61 L479.92 146.37 L480.07 146.18 L480.23 146.30 L480.38 146.50 L480.54 146.87 L480.69 147.48 L480.84 147.00 L481.00 147.72 L481.15 147.45 L481.31 147.48 L481.46 148.09 L481.61 147.93 L481.77 147.96 L481.92 148.29 L482.08 148.77 L482.23 148.96 L482.38 148.88 L482.54 148.58 L482.69 149.34 L482.85 149.37 L483.00 149.76 L483.15 149.95 L483.31 149.61 L483.46 150.18 L483.62 150.31 L483.77 150.02 L483.92 150.25 L484.08 150.42 L484.23 150.55 L484.39 150.73 L484.54 150.67 L484.69 150.91 L484.85 151.61 L485.00 151.30 L485.16 151.55 L485.31 151.83 L485.46 151.80 L485.62 151.47 L485.77 152.09 L485.93 152.07 L486.08 152.30 L486.23 152.16 L486.39 152.22 L486.54 152.30 L486.70 151.89 L486.85 152.25 L487.00 152.07 L487.16 152.48 L487.31 151.95 L487.47 152.31 L487.62 152.12 L487.77 152.43 L487.93 151.97 L488.08 152.29 L488.24 152.22 L488.39 152.17 L488.54 151.50 L488.70 152.06 L488.85 151.83 L489.01 151.62 L489.16 151.45 L489.31 150.81 L489.47 151.31 L489.62 150.90 L489.78 150.67 L489.93 150.43 L490.08 150.63 L490.24 150.46 L490.39 150.34 L490.55 149.62 L490.70 149.53 L490.85 149.26 L491.01 148.95 L491.16 148.94 L491.32 148.51 L491.47 148.93 L491.62 148.26 L491.78 147.90 L491.93 147.67 L492.09 147.97 L492.24 147.31 L492.39 147.29 L492.55 147.01 L492.70 147.10 L492.86 146.99 L493.01 146.24 L493.16 146.27 L493.32 146.25 L493.47 145.68 L493.63 145.79 L493.78 145.43 L493.93 144.86 L494.09 145.08 L494.24 144.62 L494.40 144.06 L494.55 144.25 L494.70 144.25 L494.86 143.81 L495.01 143.59 L495.17 143.34 L495.32 143.52 L495.47 143.16 L495.63 142.71 L495.78 142.80 L495.94 142.76 L496.09 143.20 L496.24 142.95 L496.40 142.45 L496.55 143.05 L496.71 142.31 L496.86 142.73 L497.01 142.68 L497.17 142.98 L497.32 142.83 L497.48 142.63" stroke="#00ffff" stroke-width="1.85" fill="none" stroke-linejoin="round" stroke-linecap="square"/>
<path d="M396.70 174.80v4.4M473.75 174.80v4.4M391.80 142.00h-4.4M391.80 161.40h-4.4" stroke="#000" stroke-width="0.95" fill="none"/>
<rect x="391.80" y="128.15" width="110.10" height="46.65" fill="none" stroke="#000" stroke-width="1.0"/>
<text x="396.70" y="190.90" text-anchor="middle">0</text>
<text x="473.75" y="190.90" text-anchor="middle">500</text>
<text x="382.80" y="145.80" text-anchor="end">0.0</text>
<text x="382.80" y="165.20" text-anchor="end">−2.5</text>
<text x="446.85" y="120.75" text-anchor="middle">Inferior Posterior (IP)</text>
<text x="446.85" y="204.80" text-anchor="middle">Sample</text>
<text transform="translate(354.56 151.48) rotate(-90)" text-anchor="middle">Amplitude (V)</text>
</g>
<g>
<path d="M569.75 128.15V174.80M646.80 128.15V174.80M564.85 141.60H674.95M564.85 173.40H674.95" stroke="#000" stroke-opacity="0.8" stroke-width="0.55" stroke-dasharray="1.5 0.9" fill="none"/>
<path d="M568.99 141.67 L569.14 142.19 L569.30 142.42 L569.45 142.29 L569.61 142.42 L569.76 143.15 L569.91 143.46 L570.07 143.14 L570.22 143.89 L570.38 144.14 L570.53 143.79 L570.68 143.90 L570.84 144.35 L570.99 144.69 L571.15 143.88 L571.30 143.82 L571.45 143.69 L571.61 143.90 L571.76 143.25 L571.92 143.42 L572.07 143.45 L572.22 143.86 L572.38 143.64 L572.53 144.63 L572.69 144.93 L572.84 144.79 L572.99 145.22 L573.15 144.36 L573.30 144.71 L573.46 144.08 L573.61 143.96 L573.76 143.75 L573.92 142.98 L574.07 143.45 L574.23 142.96 L574.38 142.95 L574.53 143.53 L574.69 144.04 L574.84 144.20 L575.00 144.36 L575.15 143.70 L575.30 143.83 L575.46 143.23 L575.61 142.60 L575.77 142.79 L575.92 142.68 L576.07 142.34 L576.23 142.65 L576.38 142.50 L576.54 142.67 L576.69 142.95 L576.84 143.19 L577.00 143.25 L577.15 142.65 L577.31 142.32 L577.46 142.36 L577.61 142.45 L577.77 142.22 L577.92 141.50 L578.08 141.26 L578.23 141.24 L578.38 140.67 L578.54 140.80 L578.69 140.82 L578.85 139.93 L579.00 140.03 L579.15 140.00 L579.31 139.87 L579.46 139.69 L579.62 139.53 L579.77 138.98 L579.92 139.34 L580.08 139.50 L580.23 138.92 L580.39 139.93 L580.54 139.69 L580.69 139.57 L580.85 139.76 L581.00 140.55 L581.16 140.29 L581.31 139.65 L581.46 139.79 L581.62 139.79 L581.77 139.96 L581.93 139.21 L582.08 139.59 L582.23 139.17 L582.39 139.18 L582.54 139.20 L582.70 139.48 L582.85 139.71 L583.00 139.41 L583.16 139.03 L583.31 138.82 L583.47 138.45 L583.62 138.29 L583.77 138.14 L583.93 138.05 L584.08 137.59 L584.24 137.70 L584.39 137.51 L584.54 137.83 L584.70 137.24 L584.85 137.50 L585.01 136.92 L585.16 136.52 L585.31 136.72 L585.47 136.16 L585.62 136.03 L585.78 136.65 L585.93 137.99 L586.08 139.00 L586.24 139.26 L586.39 140.08 L586.55 141.07 L586.70 141.93 L586.85 143.16 L587.01 143.49 L587.16 143.07 L587.32 143.50 L587.47 143.03 L587.62 142.32 L587.78 142.87 L587.93 142.56 L588.09 142.30 L588.24 142.71 L588.39 143.12 L588.55 142.81 L588.70 142.99 L588.86 143.02 L589.01 143.31 L589.16 143.25 L589.32 143.16 L589.47 143.20 L589.63 142.33 L589.78 142.37 L589.93 142.65 L590.09 142.74 L590.24 142.77 L590.40 143.05 L590.55 142.95 L590.70 143.70 L590.86 143.55 L591.01 143.52 L591.17 143.22 L591.32 143.05 L591.47 143.66 L591.63 143.47 L591.78 142.67 L591.94 142.83 L592.09 143.31 L592.24 143.74 L592.40 144.03 L592.55 144.92 L592.71 144.84 L592.86 145.41 L593.01 146.10 L593.17 146.05 L593.32 146.11 L593.48 146.18 L593.63 146.44 L593.78 146.84 L593.94 147.21 L594.09 146.39 L594.25 146.07 L594.40 145.68 L594.55 145.25 L594.71 145.33 L594.86 144.58 L595.02 144.04 L595.17 143.94 L595.32 144.23 L595.48 143.48 L595.63 143.80 L595.79 143.04 L595.94 143.04 L596.09 142.63 L596.25 142.99 L596.40 142.09 L596.56 141.85 L596.71 141.39 L596.86 141.27 L597.02 141.59 L597.17 141.73 L597.33 142.06 L597.48 142.25 L597.63 142.12 L597.79 143.22 L597.94 143.24 L598.10 144.77 L598.25 145.09 L598.40 146.27 L598.56 148.30 L598.71 149.94 L598.87 151.06 L599.02 152.52 L599.17 155.15 L599.33 156.96 L599.48 158.75 L599.64 160.95 L599.79 161.65 L599.94 163.21 L600.10 164.81 L600.25 166.26 L600.41 167.96 L600.56 168.89 L600.71 169.43 L600.87 170.48 L601.02 171.14 L601.18 171.83 L601.33 172.20 L601.48 172.77 L601.64 172.24 L601.79 171.57 L601.95 169.84 L602.10 168.57 L602.25 164.01 L602.41 159.37 L602.56 154.82 L602.72 149.44 L602.87 145.88 L603.02 143.34 L603.18 141.30 L603.33 139.85 L603.49 139.65 L603.64 139.61 L603.79 138.61 L603.95 138.74 L604.10 139.90 L604.26 140.34 L604.41 141.74 L604.56 143.50 L604.72 144.84 L604.87 146.27 L605.03 147.80 L605.18 148.40 L605.33 149.01 L605.49 149.91 L605.64 150.75 L605.80 149.54 L605.95 148.46 L606.10 147.01 L606.26 145.09 L606.41 143.58 L606.57 142.23 L606.72 141.85 L606.87 140.85 L607.03 141.18 L607.18 140.78 L607.34 140.28 L607.49 139.72 L607.64 140.33 L607.80 139.88 L607.95 140.01 L608.11 139.82 L608.26 139.86 L608.41 139.42 L608.57 139.76 L608.72 139.60 L608.88 139.42 L609.03 138.99 L609.18 138.56 L609.34 138.49 L609.49 138.29 L609.65 138.76 L609.80 138.56 L609.95 138.45 L610.11 138.38 L610.26 138.43 L610.42 138.20 L610.57 137.92 L610.72 138.37 L610.88 137.98 L611.03 138.34 L611.19 137.98 L611.34 138.56 L611.49 138.07 L611.65 137.73 L611.80 138.16 L611.96 137.25 L612.11 137.86 L612.26 137.55 L612.42 137.06 L612.57 137.66 L612.73 137.54 L612.88 137.89 L613.03 137.65 L613.19 137.56 L613.34 137.93 L613.50 136.96 L613.65 137.38 L613.80 136.57 L613.96 136.52 L614.11 136.17 L614.27 136.66 L614.42 136.38 L614.57 136.73 L614.73 136.41 L614.88 136.94 L615.04 136.97 L615.19 136.58 L615.34 136.89 L615.50 136.94 L615.65 136.33 L615.81 136.57 L615.96 136.08 L616.11 136.01 L616.27 136.37 L616.42 136.44 L616.58 136.54 L616.73 136.08 L616.88 136.26 L617.04 136.53 L617.19 136.53 L617.35 136.19 L617.50 136.40 L617.65 135.83 L617.81 136.17 L617.96 135.59 L618.12 135.11 L618.27 135.55 L618.42 135.00 L618.58 135.48 L618.73 134.92 L618.89 135.76 L619.04 135.36 L619.19 135.54 L619.35 134.89 L619.50 135.19 L619.66 134.80 L619.81 134.54 L619.96 134.89 L620.12 134.03 L620.27 134.30 L620.43 133.95 L620.58 134.64 L620.73 134.68 L620.89 133.90 L621.04 134.29 L621.20 134.29 L621.35 134.42 L621.50 134.27 L621.66 133.77 L621.81 134.15 L621.97 133.32 L622.12 133.12 L622.27 133.60 L622.43 132.92 L622.58 132.93 L622.74 133.16 L622.89 132.96 L623.04 132.76 L623.20 133.39 L623.35 132.86 L623.51 132.99 L623.66 132.35 L623.81 132.79 L623.97 132.02 L624.12 132.48 L624.28 132.07 L624.43 132.29 L624.58 132.01 L624.74 131.78 L624.89 131.59 L625.05 131.78 L625.20 131.30 L625.35 131.08 L625.51 131.97 L625.66 132.02 L625.82 132.07 L625.97 132.28 L626.12 131.97 L626.28 132.27 L626.43 132.49 L626.59 132.51 L626.74 132.37 L626.89 131.58 L627.05 131.95 L627.20 131.73 L627.36 131.42 L627.51 131.00 L627.66 130.77 L627.82 130.86 L627.97 130.68 L628.13 130.27 L628.28 130.25 L628.43 130.57 L628.59 130.92 L628.74 130.91 L628.90 130.68 L629.05 131.49 L629.20 131.18 L629.36 131.58 L629.51 131.39 L629.67 130.43 L629.82 130.62 L629.97 130.76 L630.13 130.03 L630.28 130.07 L630.44 129.96 L630.59 129.81 L630.74 130.07 L630.90 130.10 L631.05 130.35 L631.21 130.76 L631.36 130.91 L631.51 131.49 L631.67 131.48 L631.82 131.42 L631.98 132.30 L632.13 132.48 L632.28 132.86 L632.44 133.61 L632.59 133.85 L632.75 133.77 L632.90 134.20 L633.05 134.13 L633.21 134.94 L633.36 134.49 L633.52 135.35 L633.67 134.74 L633.82 134.90 L633.98 135.59 L634.13 135.48 L634.29 135.96 L634.44 135.81 L634.59 136.69 L634.75 136.85 L634.90 137.17 L635.06 137.69 L635.21 138.06 L635.36 138.09 L635.52 138.43 L635.67 137.98 L635.83 138.18 L635.98 138.67 L636.13 139.31 L636.29 138.88 L636.44 139.26 L636.60 138.92 L636.75 139.50 L636.90 140.14 L637.06 140.06 L637.21 140.48 L637.37 139.95 L637.52 140.33 L637.67 140.51 L637.83 141.31 L637.98 140.86 L638.14 141.81 L638.29 141.42 L638.44 142.17 L638.60 142.02 L638.75 141.95 L638.91 142.63 L639.06 142.23 L639.21 142.60 L639.37 142.13 L639.52 142.92 L639.68 143.16 L639.83 142.48 L639.98 143.15 L640.14 142.83 L640.29 142.82 L640.45 143.12 L640.60 143.47 L640.75 143.79 L640.91 143.87 L641.06 143.92 L641.22 143.64 L641.37 143.72 L641.52 143.33 L641.68 143.76 L641.83 143.50 L641.99 143.23 L642.14 143.61 L642.29 142.93 L642.45 142.72 L642.60 142.72 L642.76 142.87 L642.91 143.42 L643.06 143.76 L643.22 143.34 L643.37 143.80 L643.53 144.02 L643.68 143.85 L643.83 143.51 L643.99 143.43 L644.14 142.75 L644.30 142.58 L644.45 142.70 L644.60 142.45 L644.76 143.02 L644.91 142.66 L645.07 143.28 L645.22 142.86 L645.37 142.83 L645.53 143.28 L645.68 143.07 L645.84 142.87 L645.99 143.10 L646.14 142.46 L646.30 142.71 L646.45 142.70 L646.61 142.33 L646.76 142.53 L646.91 143.06 L647.07 142.93 L647.22 142.70 L647.38 142.76 L647.53 142.92 L647.68 142.97 L647.84 142.54 L647.99 142.84 L648.15 142.44 L648.30 142.13 L648.45 142.10 L648.61 142.30 L648.76 141.53 L648.92 141.29 L649.07 141.27 L649.22 141.14 L649.38 141.51 L649.53 141.17 L649.69 140.77 L649.84 140.38 L649.99 140.12 L650.15 140.03 L650.30 141.02 L650.46 141.45 L650.61 141.63 L650.76 142.66 L650.92 142.64 L651.07 143.25 L651.23 143.30 L651.38 143.30 L651.53 144.08 L651.69 144.26 L651.84 144.28 L652.00 143.84 L652.15 144.09 L652.30 143.67 L652.46 143.67 L652.61 142.95 L652.77 143.47 L652.92 142.56 L653.07 142.86 L653.23 143.13 L653.38 143.05 L653.54 143.05 L653.69 143.69 L653.84 144.07 L654.00 143.41 L654.15 143.24 L654.31 143.50 L654.46 143.00 L654.61 143.05 L654.77 143.21 L654.92 142.99 L655.08 142.95 L655.23 143.08 L655.38 143.71 L655.54 144.32 L655.69 144.46 L655.85 143.93 L656.00 144.22 L656.15 144.10 L656.31 143.74 L656.46 144.06 L656.62 143.80 L656.77 143.98 L656.92 143.54 L657.08 144.32 L657.23 144.42 L657.39 144.32 L657.54 144.22 L657.69 144.74 L657.85 144.62 L658.00 144.90 L658.16 144.66 L658.31 144.29 L658.46 144.40 L658.62 143.30 L658.77 143.65 L658.93 143.67 L659.08 143.26 L659.23 143.65 L659.39 143.61 L659.54 144.30 L659.70 144.63 L659.85 144.49 L660.00 144.72 L660.16 144.32 L660.31 144.53 L660.47 144.03 L660.62 144.56 L660.77 143.97 L660.93 143.60 L661.08 143.83 L661.24 144.56 L661.39 144.84 L661.54 144.79 L661.70 144.51 L661.85 145.31 L662.01 145.07 L662.16 144.42 L662.31 144.56 L662.47 144.72 L662.62 144.02 L662.78 143.95 L662.93 144.12 L663.08 144.49 L663.24 144.50 L663.39 143.79 L663.55 144.21 L663.70 144.00 L663.85 143.97 L664.01 143.88 L664.16 144.38 L664.32 144.24 L664.47 144.66 L664.62 144.47 L664.78 144.30 L664.93 144.58 L665.09 144.39 L665.24 144.10 L665.39 143.98 L665.55 143.95 L665.70 143.87 L665.86 143.40 L666.01 143.66 L666.16 144.07 L666.32 144.27 L666.47 144.40 L666.63 144.83 L666.78 144.60 L666.93 144.86 L667.09 144.37 L667.24 144.56 L667.40 144.24 L667.55 144.05 L667.70 143.56 L667.86 143.08 L668.01 143.58 L668.17 143.11 L668.32 142.88 L668.47 142.70 L668.63 142.70 L668.78 142.87 L668.94 143.05 L669.09 142.96 L669.24 143.39 L669.40 143.12 L669.55 143.54 L669.71 143.67 L669.86 143.78 L670.01 143.68 L670.17 143.88 L670.32 143.71 L670.48 143.08" stroke="#808000" stroke-width="1.85" fill="none" stroke-linejoin="round" stroke-linecap="square"/>
<path d="M569.75 174.80v4.4M646.80 174.80v4.4M564.85 141.60h-4.4M564.85 173.40h-4.4" stroke="#000" stroke-width="0.95" fill="none"/>
<rect x="564.85" y="128.15" width="110.10" height="46.65" fill="none" stroke="#000" stroke-width="1.0"/>
<text x="569.75" y="190.90" text-anchor="middle">0</text>
<text x="646.80" y="190.90" text-anchor="middle">500</text>
<text x="555.85" y="145.40" text-anchor="end">0</text>
<text x="555.85" y="177.20" text-anchor="end">−5</text>
<text x="619.50" y="120.75" text-anchor="middle">Inferior Posterior Lateral (IPL)</text>
<text x="619.90" y="204.80" text-anchor="middle">Sample</text>
<text transform="translate(535.55 151.48) rotate(-90)" text-anchor="middle">Amplitude (V)</text>
</g>
<g>
<path d="M50.50 240.50V287.05M127.55 240.50V287.05M45.60 256.20H155.70M45.60 280.20H155.70" stroke="#000" stroke-opacity="0.8" stroke-width="0.55" stroke-dasharray="1.5 0.9" fill="none"/>
<path d="M49.82 257.19 L49.97 260.22 L50.13 256.76 L50.28 258.13 L50.43 255.12 L50.59 257.76 L50.74 254.26 L50.90 256.12 L51.05 253.62 L51.20 256.86 L51.36 254.01 L51.51 256.62 L51.67 253.73 L51.82 256.12 L51.97 253.28 L52.13 256.59 L52.28 254.28 L52.44 257.49 L52.59 254.85 L52.74 257.81 L52.90 254.83 L53.05 257.87 L53.21 256.16 L53.36 259.28 L53.51 256.80 L53.67 258.96 L53.82 256.58 L53.98 259.43 L54.13 256.46 L54.28 259.44 L54.44 257.27 L54.59 259.57 L54.75 256.77 L54.90 259.82 L55.05 256.67 L55.21 258.36 L55.36 255.53 L55.52 258.51 L55.67 255.95 L55.82 258.30 L55.98 255.35 L56.13 259.22 L56.29 257.02 L56.44 260.75 L56.59 258.24 L56.75 261.73 L56.90 259.20 L57.06 262.90 L57.21 260.61 L57.36 263.32 L57.52 260.84 L57.67 262.84 L57.83 260.29 L57.98 262.41 L58.13 258.55 L58.29 261.21 L58.44 258.67 L58.60 260.57 L58.75 257.70 L58.90 260.25 L59.06 257.07 L59.21 259.08 L59.37 256.15 L59.52 258.69 L59.67 255.91 L59.83 258.74 L59.98 255.55 L60.14 257.09 L60.29 254.98 L60.44 256.72 L60.60 253.13 L60.75 255.15 L60.91 251.25 L61.06 253.76 L61.21 250.32 L61.37 253.08 L61.52 250.01 L61.68 252.62 L61.83 249.10 L61.98 251.91 L62.14 249.07 L62.29 252.02 L62.45 249.04 L62.60 251.00 L62.75 248.71 L62.91 251.68 L63.06 248.89 L63.22 251.12 L63.37 248.31 L63.52 250.70 L63.68 248.04 L63.83 250.43 L63.99 247.72 L64.14 250.20 L64.29 247.37 L64.45 250.29 L64.60 247.27 L64.76 249.83 L64.91 248.15 L65.06 250.62 L65.22 248.08 L65.37 251.31 L65.53 248.33 L65.68 250.94 L65.83 249.45 L65.99 251.96 L66.14 248.81 L66.30 252.32 L66.45 250.05 L66.60 253.20 L66.76 251.91 L66.91 254.59 L67.07 252.86 L67.22 255.56 L67.37 253.22 L67.53 257.46 L67.68 255.05 L67.84 257.81 L67.99 255.97 L68.14 258.35 L68.30 256.63 L68.45 259.62 L68.61 256.77 L68.76 259.14 L68.91 256.75 L69.07 258.98 L69.22 255.56 L69.38 258.55 L69.53 255.79 L69.68 257.40 L69.84 255.08 L69.99 257.35 L70.15 255.24 L70.30 258.25 L70.45 255.31 L70.61 258.15 L70.76 255.17 L70.92 257.54 L71.07 256.06 L71.22 259.13 L71.38 257.18 L71.53 260.92 L71.69 258.70 L71.84 261.54 L71.99 258.70 L72.15 261.44 L72.30 259.63 L72.46 262.15 L72.61 258.68 L72.76 260.69 L72.92 257.91 L73.07 260.36 L73.23 257.15 L73.38 259.08 L73.53 256.87 L73.69 259.14 L73.84 256.58 L74.00 259.27 L74.15 256.51 L74.30 259.13 L74.46 256.54 L74.61 259.37 L74.77 256.20 L74.92 258.69 L75.07 255.62 L75.23 258.42 L75.38 255.32 L75.54 257.90 L75.69 255.32 L75.84 257.78 L76.00 255.09 L76.15 258.02 L76.31 255.58 L76.46 258.52 L76.61 256.50 L76.77 259.73 L76.92 257.74 L77.08 260.20 L77.23 257.75 L77.38 260.35 L77.54 257.32 L77.69 260.50 L77.85 258.36 L78.00 260.56 L78.15 257.58 L78.31 259.65 L78.46 257.91 L78.62 260.77 L78.77 257.78 L78.92 260.45 L79.08 257.05 L79.23 259.65 L79.39 257.18 L79.54 259.02 L79.69 256.16 L79.85 257.81 L80.00 254.07 L80.16 255.95 L80.31 252.72 L80.46 254.56 L80.62 251.43 L80.77 253.90 L80.93 251.60 L81.08 255.65 L81.23 255.42 L81.39 259.59 L81.54 259.22 L81.70 263.41 L81.85 261.96 L82.00 264.13 L82.16 260.77 L82.31 262.51 L82.47 259.00 L82.62 260.33 L82.77 257.55 L82.93 259.06 L83.08 254.87 L83.24 257.92 L83.39 255.72 L83.54 258.93 L83.70 257.43 L83.85 260.29 L84.01 258.69 L84.16 262.34 L84.31 260.05 L84.47 263.62 L84.62 262.29 L84.78 265.85 L84.93 263.39 L85.08 265.98 L85.24 263.00 L85.39 266.19 L85.55 263.56 L85.70 266.41 L85.85 262.97 L86.01 265.34 L86.16 261.89 L86.32 263.87 L86.47 261.12 L86.62 263.41 L86.78 260.64 L86.93 262.16 L87.09 259.14 L87.24 260.57 L87.39 256.88 L87.55 258.77 L87.70 255.20 L87.86 257.20 L88.01 253.75 L88.16 255.56 L88.32 251.88 L88.47 253.02 L88.63 249.93 L88.78 251.63 L88.93 248.58 L89.09 250.62 L89.24 247.60 L89.40 249.89 L89.55 247.64 L89.70 250.13 L89.86 247.67 L90.01 250.29 L90.17 246.45 L90.32 248.60 L90.47 245.73 L90.63 247.80 L90.78 243.90 L90.94 246.16 L91.09 243.39 L91.24 245.63 L91.40 243.30 L91.55 245.31 L91.71 242.20 L91.86 245.08 L92.01 243.43 L92.17 246.43 L92.32 244.53 L92.48 249.50 L92.63 250.87 L92.78 257.91 L92.94 262.91 L93.09 272.84 L93.25 266.09 L93.40 274.32 L93.55 277.50 L93.71 282.59 L93.86 281.28 L94.02 285.17 L94.17 282.63 L94.32 283.23 L94.48 279.21 L94.63 279.09 L94.79 273.55 L94.94 272.72 L95.09 267.14 L95.25 267.31 L95.40 262.47 L95.56 262.61 L95.71 258.89 L95.86 261.45 L96.02 257.63 L96.17 259.22 L96.33 255.97 L96.48 258.44 L96.63 255.12 L96.79 257.63 L96.94 255.24 L97.10 257.62 L97.25 254.48 L97.40 256.48 L97.56 253.97 L97.71 256.95 L97.87 254.91 L98.02 257.75 L98.17 255.02 L98.33 257.14 L98.48 254.71 L98.64 257.39 L98.79 254.87 L98.94 258.06 L99.10 254.47 L99.25 257.05 L99.41 253.68 L99.56 256.34 L99.71 253.97 L99.87 257.10 L100.02 253.58 L100.18 256.18 L100.33 252.95 L100.48 255.85 L100.64 253.63 L100.79 256.55 L100.95 253.92 L101.10 255.35 L101.25 252.49 L101.41 255.82 L101.56 252.35 L101.72 255.24 L101.87 253.42 L102.02 255.73 L102.18 253.65 L102.33 256.45 L102.49 252.74 L102.64 255.97 L102.79 253.32 L102.95 256.14 L103.10 253.43 L103.26 255.69 L103.41 253.47 L103.56 255.72 L103.72 253.61 L103.87 256.45 L104.03 253.16 L104.18 255.21 L104.33 252.82 L104.49 255.40 L104.64 253.01 L104.80 255.71 L104.95 253.28 L105.10 256.08 L105.26 253.96 L105.41 256.11 L105.57 254.29 L105.72 256.08 L105.87 254.51 L106.03 256.84 L106.18 254.39 L106.34 256.01 L106.49 252.92 L106.64 255.91 L106.80 252.64 L106.95 255.84 L107.11 253.11 L107.26 255.20 L107.41 252.09 L107.57 255.10 L107.72 251.68 L107.88 253.98 L108.03 251.34 L108.18 252.65 L108.34 250.16 L108.49 252.57 L108.65 250.00 L108.80 251.85 L108.95 249.44 L109.11 252.66 L109.26 249.33 L109.42 252.66 L109.57 250.36 L109.72 253.15 L109.88 250.79 L110.03 254.20 L110.19 252.30 L110.34 253.90 L110.49 250.66 L110.65 253.32 L110.80 249.86 L110.96 252.73 L111.11 250.40 L111.26 252.98 L111.42 251.02 L111.57 253.59 L111.73 250.95 L111.88 254.47 L112.03 252.19 L112.19 255.94 L112.34 254.07 L112.50 256.55 L112.65 254.14 L112.80 256.40 L112.96 253.86 L113.11 256.89 L113.27 253.74 L113.42 257.25 L113.57 254.30 L113.73 256.71 L113.88 254.06 L114.04 256.18 L114.19 252.60 L114.34 253.52 L114.50 250.04 L114.65 250.97 L114.81 248.20 L114.96 250.65 L115.11 248.62 L115.27 251.71 L115.42 251.84 L115.58 257.01 L115.73 256.86 L115.88 261.45 L116.04 257.32 L116.19 258.59 L116.35 254.80 L116.50 257.32 L116.65 253.57 L116.81 255.26 L116.96 252.04 L117.12 254.43 L117.27 251.14 L117.42 253.87 L117.58 250.14 L117.73 252.93 L117.89 249.03 L118.04 251.55 L118.19 248.75 L118.35 251.94 L118.50 249.41 L118.66 252.87 L118.81 249.75 L118.96 253.30 L119.12 251.14 L119.27 254.21 L119.43 250.85 L119.58 252.81 L119.73 249.52 L119.89 252.64 L120.04 249.97 L120.20 252.69 L120.35 250.83 L120.50 253.57 L120.66 251.16 L120.81 254.43 L120.97 251.10 L121.12 253.92 L121.27 250.64 L121.43 253.04 L121.58 249.67 L121.74 251.96 L121.89 249.11 L122.04 252.19 L122.20 249.78 L122.35 251.65 L122.51 249.45 L122.66 252.20 L122.81 250.28 L122.97 252.84 L123.12 250.81 L123.28 254.37 L123.43 251.62 L123.58 254.24 L123.74 250.64 L123.89 253.63 L124.05 251.63 L124.20 254.47 L124.35 251.82 L124.51 254.45 L124.66 251.84 L124.82 254.01 L124.97 251.69 L125.12 254.25 L125.28 252.13 L125.43 254.49 L125.59 252.30 L125.74 254.71 L125.89 252.93 L126.05 255.76 L126.20 253.11 L126.36 255.23 L126.51 252.63 L126.66 254.65 L126.82 252.05 L126.97 254.00 L127.13 251.01 L127.28 253.98 L127.43 251.08 L127.59 253.38 L127.74 251.38 L127.90 254.41 L128.05 252.05 L128.20 254.04 L128.36 251.76 L128.51 255.02 L128.67 251.87 L128.82 255.27 L128.97 252.52 L129.13 255.02 L129.28 252.73 L129.44 255.22 L129.59 252.92 L129.74 255.24 L129.90 252.01 L130.05 254.36 L130.21 252.32 L130.36 254.56 L130.51 252.30 L130.67 255.89 L130.82 252.64 L130.98 255.78 L131.13 253.39 L131.28 256.58 L131.44 255.02 L131.59 258.33 L131.75 256.61 L131.90 258.61 L132.05 256.27 L132.21 258.45 L132.36 255.77 L132.52 258.45 L132.67 255.23 L132.82 257.62 L132.98 254.07 L133.13 256.87 L133.29 254.21 L133.44 256.28 L133.59 253.18 L133.75 255.91 L133.90 252.65 L134.06 255.26 L134.21 252.82 L134.36 255.17 L134.52 252.72 L134.67 255.42 L134.83 252.34 L134.98 255.51 L135.13 251.93 L135.29 255.30 L135.44 252.47 L135.60 255.14 L135.75 251.93 L135.90 254.95 L136.06 252.88 L136.21 255.41 L136.37 252.91 L136.52 255.25 L136.67 252.75 L136.83 255.95 L136.98 253.35 L137.14 255.85 L137.29 253.24 L137.44 255.53 L137.60 252.84 L137.75 255.36 L137.91 252.40 L138.06 255.15 L138.21 252.75 L138.37 255.21 L138.52 251.42 L138.68 254.83 L138.83 251.62 L138.98 253.96 L139.14 251.22 L139.29 253.09 L139.45 250.94 L139.60 253.95 L139.75 251.18 L139.91 254.54 L140.06 252.71 L140.22 255.53 L140.37 252.09 L140.52 254.76 L140.68 252.68 L140.83 255.10 L140.99 251.62 L141.14 254.29 L141.29 251.37 L141.45 254.08 L141.60 250.94 L141.76 253.63 L141.91 250.59 L142.06 252.51 L142.22 250.87 L142.37 252.92 L142.53 251.37 L142.68 253.51 L142.83 251.45 L142.99 253.43 L143.14 250.56 L143.30 253.49 L143.45 252.49 L143.60 255.46 L143.76 253.04 L143.91 254.84 L144.07 251.91 L144.22 254.43 L144.37 251.77 L144.53 254.46 L144.68 252.02 L144.84 255.07 L144.99 251.76 L145.14 254.26 L145.30 252.44 L145.45 254.81 L145.61 252.45 L145.76 255.06 L145.91 253.03 L146.07 255.87 L146.22 253.34 L146.38 255.51 L146.53 253.13 L146.68 256.63 L146.84 254.19 L146.99 257.78 L147.15 255.64 L147.30 258.07 L147.45 255.82 L147.61 258.18 L147.76 254.47 L147.92 257.21 L148.07 254.08 L148.22 256.29 L148.38 253.31 L148.53 255.67 L148.69 252.73 L148.84 255.36 L148.99 252.15 L149.15 254.88 L149.30 253.04 L149.46 255.72 L149.61 253.14 L149.76 255.29 L149.92 253.93 L150.07 255.85 L150.23 253.20 L150.38 256.53 L150.53 253.78 L150.69 257.09 L150.84 254.21 L151.00 257.06" stroke="#800000" stroke-width="1.85" fill="none" stroke-linejoin="round" stroke-linecap="square"/>
<path d="M50.50 287.05v4.4M127.55 287.05v4.4M45.60 256.20h-4.4M45.60 280.20h-4.4" stroke="#000" stroke-width="0.95" fill="none"/>
<rect x="45.60" y="240.50" width="110.10" height="46.55" fill="none" stroke="#000" stroke-width="1.0"/>
<text x="50.50" y="303.15" text-anchor="middle">0</text>
<text x="127.55" y="303.15" text-anchor="middle">500</text>
<text x="36.60" y="260.00" text-anchor="end">0</text>
<text x="36.60" y="284.00" text-anchor="end">−5</text>
<text x="100.65" y="233.10" text-anchor="middle">Lateral (L)</text>
<text x="100.65" y="317.05" text-anchor="middle">Sample</text>
<text transform="translate(16.80 263.77) rotate(-90)" text-anchor="middle">Amplitude (V)</text>
</g>
<g>
<path d="M223.60 240.50V287.05M300.65 240.50V287.05M218.70 251.40H328.80M218.70 275.30H328.80" stroke="#000" stroke-opacity="0.8" stroke-width="0.55" stroke-dasharray="1.5 0.9" fill="none"/>
<path d="M222.99 273.10 L223.14 273.17 L223.30 272.95 L223.45 273.22 L223.61 273.45 L223.76 273.42 L223.91 273.40 L224.07 273.35 L224.22 273.39 L224.38 273.67 L224.53 273.29 L224.68 273.47 L224.84 273.29 L224.99 273.10 L225.15 273.15 L225.30 273.06 L225.45 272.81 L225.61 272.49 L225.76 272.60 L225.92 272.45 L226.07 272.31 L226.22 272.50 L226.38 272.35 L226.53 272.03 L226.69 271.99 L226.84 271.96 L226.99 271.98 L227.15 271.80 L227.30 271.77 L227.46 271.84 L227.61 271.51 L227.76 271.65 L227.92 271.42 L228.07 271.59 L228.23 271.51 L228.38 271.18 L228.53 271.22 L228.69 270.94 L228.84 270.99 L229.00 271.00 L229.15 270.92 L229.30 270.73 L229.46 270.53 L229.61 270.49 L229.77 270.70 L229.92 270.63 L230.07 270.76 L230.23 270.96 L230.38 271.15 L230.54 271.07 L230.69 271.04 L230.84 271.25 L231.00 271.20 L231.15 271.44 L231.31 271.23 L231.46 271.31 L231.61 271.42 L231.77 271.65 L231.92 271.39 L232.08 271.44 L232.23 271.45 L232.38 271.54 L232.54 271.67 L232.69 271.77 L232.85 271.99 L233.00 271.93 L233.15 272.03 L233.31 272.08 L233.46 272.30 L233.62 272.43 L233.77 272.35 L233.92 272.67 L234.08 272.51 L234.23 272.92 L234.39 272.85 L234.54 273.03 L234.69 273.03 L234.85 273.10 L235.00 273.13 L235.16 273.39 L235.31 273.14 L235.46 273.24 L235.62 273.11 L235.77 273.09 L235.93 272.93 L236.08 272.88 L236.23 272.90 L236.39 273.13 L236.54 273.27 L236.70 273.24 L236.85 273.72 L237.00 273.80 L237.16 273.85 L237.31 274.11 L237.47 274.29 L237.62 274.72 L237.77 274.70 L237.93 274.69 L238.08 274.74 L238.24 274.83 L238.39 274.90 L238.54 275.01 L238.70 275.26 L238.85 275.34 L239.01 275.40 L239.16 275.63 L239.31 275.69 L239.47 275.63 L239.62 275.75 L239.78 275.96 L239.93 276.15 L240.08 276.41 L240.24 276.68 L240.39 276.61 L240.55 276.50 L240.70 276.37 L240.85 276.62 L241.01 276.48 L241.16 276.26 L241.32 276.06 L241.47 276.18 L241.62 275.64 L241.78 275.62 L241.93 275.07 L242.09 275.02 L242.24 274.65 L242.39 274.67 L242.55 274.28 L242.70 274.05 L242.86 273.93 L243.01 274.02 L243.16 273.94 L243.32 273.69 L243.47 273.82 L243.63 273.78 L243.78 273.89 L243.93 273.93 L244.09 274.41 L244.24 274.14 L244.40 274.49 L244.55 274.50 L244.70 274.45 L244.86 274.47 L245.01 274.59 L245.17 274.24 L245.32 274.13 L245.47 274.24 L245.63 274.18 L245.78 274.04 L245.94 273.83 L246.09 274.20 L246.24 274.01 L246.40 274.15 L246.55 274.29 L246.71 274.52 L246.86 274.62 L247.01 274.76 L247.17 274.95 L247.32 275.08 L247.48 274.79 L247.63 274.51 L247.78 274.71 L247.94 274.27 L248.09 274.27 L248.25 274.09 L248.40 274.15 L248.55 274.11 L248.71 273.82 L248.86 273.93 L249.02 274.19 L249.17 274.16 L249.32 273.97 L249.48 274.24 L249.63 274.32 L249.79 274.20 L249.94 274.14 L250.09 274.24 L250.25 273.99 L250.40 273.80 L250.56 273.69 L250.71 273.67 L250.86 273.45 L251.02 273.44 L251.17 273.39 L251.33 273.29 L251.48 273.20 L251.63 273.32 L251.79 272.99 L251.94 273.05 L252.10 273.25 L252.25 273.19 L252.40 273.17 L252.56 273.07 L252.71 273.04 L252.87 273.25 L253.02 273.28 L253.17 273.22 L253.33 273.39 L253.48 273.44 L253.64 273.87 L253.79 273.76 L253.94 273.91 L254.10 274.38 L254.25 274.61 L254.41 275.27 L254.56 275.72 L254.71 276.13 L254.87 276.58 L255.02 276.96 L255.18 277.54 L255.33 278.43 L255.48 279.05 L255.64 277.53 L255.79 276.01 L255.95 274.43 L256.10 273.19 L256.25 271.79 L256.41 271.27 L256.56 270.42 L256.72 269.75 L256.87 269.17 L257.02 269.88 L257.18 270.97 L257.33 271.78 L257.49 272.94 L257.64 274.49 L257.79 276.44 L257.95 278.16 L258.10 279.85 L258.26 281.25 L258.41 282.11 L258.56 283.25 L258.72 284.12 L258.87 284.49 L259.03 284.56 L259.18 284.75 L259.33 284.68 L259.49 281.74 L259.64 279.47 L259.80 276.79 L259.95 273.67 L260.10 269.25 L260.26 264.79 L260.41 260.44 L260.57 255.85 L260.72 253.30 L260.87 250.55 L261.03 248.14 L261.18 245.93 L261.34 243.92 L261.49 243.40 L261.64 242.77 L261.80 242.48 L261.95 242.17 L262.11 242.26 L262.26 243.74 L262.41 245.35 L262.57 248.08 L262.72 253.17 L262.88 258.19 L263.03 263.07 L263.18 269.08 L263.34 275.10 L263.49 280.90 L263.65 282.37 L263.80 283.85 L263.95 283.97 L264.11 283.89 L264.26 282.89 L264.42 281.15 L264.57 279.30 L264.72 277.96 L264.88 277.21 L265.03 276.67 L265.19 275.84 L265.34 275.38 L265.49 274.95 L265.65 274.66 L265.80 274.51 L265.96 274.42 L266.11 274.11 L266.26 274.23 L266.42 273.95 L266.57 274.41 L266.73 274.45 L266.88 274.46 L267.03 274.71 L267.19 274.53 L267.34 274.71 L267.50 274.97 L267.65 275.05 L267.80 274.79 L267.96 274.96 L268.11 274.75 L268.27 274.43 L268.42 274.38 L268.57 274.29 L268.73 274.41 L268.88 274.23 L269.04 274.21 L269.19 274.33 L269.34 274.22 L269.50 274.59 L269.65 274.60 L269.81 274.53 L269.96 274.52 L270.11 274.50 L270.27 274.65 L270.42 274.47 L270.58 274.64 L270.73 274.56 L270.88 274.39 L271.04 274.35 L271.19 273.98 L271.35 273.92 L271.50 273.93 L271.65 273.85 L271.81 274.08 L271.96 274.43 L272.12 274.48 L272.27 274.65 L272.42 274.47 L272.58 274.58 L272.73 274.62 L272.89 274.83 L273.04 274.71 L273.19 274.82 L273.35 274.65 L273.50 274.72 L273.66 274.60 L273.81 274.54 L273.96 274.34 L274.12 274.44 L274.27 274.37 L274.43 274.46 L274.58 274.44 L274.73 274.51 L274.89 274.52 L275.04 274.49 L275.20 274.74 L275.35 274.88 L275.50 274.78 L275.66 275.05 L275.81 274.98 L275.97 274.90 L276.12 274.80 L276.27 274.60 L276.43 274.39 L276.58 274.35 L276.74 274.46 L276.89 274.49 L277.04 274.16 L277.20 274.16 L277.35 274.33 L277.51 274.37 L277.66 274.51 L277.81 274.35 L277.97 274.68 L278.12 274.52 L278.28 274.76 L278.43 274.45 L278.58 274.37 L278.74 274.24 L278.89 274.48 L279.05 274.25 L279.20 274.27 L279.35 273.88 L279.51 274.00 L279.66 274.06 L279.82 274.20 L279.97 274.22 L280.12 273.93 L280.28 274.07 L280.43 274.36 L280.59 274.22 L280.74 274.42 L280.89 274.18 L281.05 274.02 L281.20 274.31 L281.36 273.96 L281.51 274.00 L281.66 273.85 L281.82 273.86 L281.97 273.92 L282.13 273.85 L282.28 273.79 L282.43 273.62 L282.59 273.92 L282.74 273.68 L282.90 273.91 L283.05 274.20 L283.20 274.00 L283.36 274.12 L283.51 274.29 L283.67 274.15 L283.82 274.30 L283.97 274.24 L284.13 273.98 L284.28 274.27 L284.44 273.89 L284.59 274.10 L284.74 273.93 L284.90 273.81 L285.05 273.86 L285.21 274.30 L285.36 274.30 L285.51 274.24 L285.67 274.45 L285.82 274.60 L285.98 274.66 L286.13 274.58 L286.28 274.54 L286.44 274.67 L286.59 274.90 L286.75 274.84 L286.90 274.85 L287.05 274.96 L287.21 274.82 L287.36 274.92 L287.52 275.08 L287.67 274.91 L287.82 275.29 L287.98 275.07 L288.13 275.39 L288.29 275.52 L288.44 275.46 L288.59 275.89 L288.75 275.81 L288.90 275.83 L289.06 276.03 L289.21 276.22 L289.36 276.27 L289.52 276.22 L289.67 276.37 L289.83 276.73 L289.98 276.61 L290.13 276.78 L290.29 277.13 L290.44 277.31 L290.60 277.47 L290.75 277.34 L290.90 277.43 L291.06 277.88 L291.21 277.97 L291.37 278.03 L291.52 278.05 L291.67 278.34 L291.83 278.37 L291.98 278.63 L292.14 278.90 L292.29 278.71 L292.44 278.77 L292.60 279.13 L292.75 279.02 L292.91 279.18 L293.06 279.42 L293.21 279.80 L293.37 279.68 L293.52 279.83 L293.68 280.05 L293.83 280.08 L293.98 280.33 L294.14 280.60 L294.29 280.59 L294.45 280.89 L294.60 280.77 L294.75 280.85 L294.91 281.17 L295.06 281.22 L295.22 281.52 L295.37 281.31 L295.52 281.68 L295.68 281.77 L295.83 281.76 L295.99 281.78 L296.14 282.09 L296.29 282.27 L296.45 282.27 L296.60 282.38 L296.76 282.58 L296.91 282.67 L297.06 282.71 L297.22 282.73 L297.37 282.96 L297.53 283.11 L297.68 283.36 L297.83 283.51 L297.99 283.46 L298.14 283.48 L298.30 283.53 L298.45 283.77 L298.60 283.89 L298.76 283.77 L298.91 284.03 L299.07 284.23 L299.22 284.06 L299.37 284.36 L299.53 284.23 L299.68 284.29 L299.84 284.34 L299.99 284.04 L300.14 284.06 L300.30 284.27 L300.45 283.87 L300.61 283.92 L300.76 283.95 L300.91 284.01 L301.07 283.89 L301.22 283.93 L301.38 283.75 L301.53 283.41 L301.68 283.36 L301.84 283.27 L301.99 283.35 L302.15 283.11 L302.30 283.16 L302.45 283.01 L302.61 282.65 L302.76 282.72 L302.92 282.35 L303.07 282.37 L303.22 281.94 L303.38 281.85 L303.53 281.63 L303.69 281.33 L303.84 281.34 L303.99 280.84 L304.15 280.74 L304.30 280.58 L304.46 280.61 L304.61 280.27 L304.76 279.89 L304.92 279.79 L305.07 279.68 L305.23 279.53 L305.38 279.02 L305.53 279.06 L305.69 278.67 L305.84 278.49 L306.00 278.22 L306.15 278.00 L306.30 278.01 L306.46 277.79 L306.61 277.60 L306.77 277.33 L306.92 277.13 L307.07 276.71 L307.23 276.47 L307.38 276.60 L307.54 276.35 L307.69 276.21 L307.84 275.97 L308.00 275.84 L308.15 275.98 L308.31 275.71 L308.46 275.39 L308.61 275.40 L308.77 275.29 L308.92 275.06 L309.08 275.31 L309.23 275.17 L309.38 275.02 L309.54 274.58 L309.69 274.63 L309.85 274.39 L310.00 274.52 L310.15 274.44 L310.31 274.48 L310.46 274.60 L310.62 274.45 L310.77 274.52 L310.92 274.67 L311.08 275.08 L311.23 275.19 L311.39 275.18 L311.54 275.17 L311.69 275.34 L311.85 274.97 L312.00 274.97 L312.16 274.77 L312.31 275.08 L312.46 274.78 L312.62 274.84 L312.77 274.78 L312.93 274.66 L313.08 274.86 L313.23 274.82 L313.39 274.92 L313.54 274.97 L313.70 274.66 L313.85 274.96 L314.00 274.79 L314.16 274.87 L314.31 274.82 L314.47 275.00 L314.62 274.56 L314.77 274.63 L314.93 274.43 L315.08 274.70 L315.24 274.42 L315.39 274.43 L315.54 274.30 L315.70 274.43 L315.85 274.30 L316.01 274.37 L316.16 274.54 L316.31 274.56 L316.47 274.67 L316.62 274.48 L316.78 274.73 L316.93 274.67 L317.08 274.53 L317.24 274.39 L317.39 274.37 L317.55 274.10 L317.70 274.03 L317.85 274.04 L318.01 273.89 L318.16 273.78 L318.32 274.04 L318.47 274.04 L318.62 274.00 L318.78 273.83 L318.93 274.04 L319.09 274.08 L319.24 274.00 L319.39 273.84 L319.55 273.96 L319.70 273.81 L319.86 273.69 L320.01 273.56 L320.16 273.77 L320.32 273.60 L320.47 273.64 L320.63 273.26 L320.78 273.22 L320.93 273.31 L321.09 273.17 L321.24 273.30 L321.40 273.44 L321.55 273.45 L321.70 273.66 L321.86 273.57 L322.01 273.63 L322.17 273.65 L322.32 273.66 L322.47 273.41 L322.63 273.19 L322.78 273.51 L322.94 273.35 L323.09 273.01 L323.24 272.93 L323.40 272.90 L323.55 273.03 L323.71 272.87 L323.86 272.88 L324.01 273.12 L324.17 272.97 L324.32 273.12 L324.48 273.23" stroke="#8a2be2" stroke-width="1.85" fill="none" stroke-linejoin="round" stroke-linecap="square"/>
<path d="M223.60 287.05v4.4M300.65 287.05v4.4M218.70 251.40h-4.4M218.70 275.30h-4.4" stroke="#000" stroke-width="0.95" fill="none"/>
<rect x="218.70" y="240.50" width="110.10" height="46.55" fill="none" stroke="#000" stroke-width="1.0"/>
<text x="223.60" y="303.15" text-anchor="middle">0</text>
<text x="300.65" y="303.15" text-anchor="middle">500</text>
<text x="209.70" y="255.20" text-anchor="end">5</text>
<text x="209.70" y="279.10" text-anchor="end">0</text>
<text x="273.75" y="233.10" text-anchor="middle">Posterior (P)</text>
<text x="273.75" y="317.05" text-anchor="middle">Sample</text>
<text transform="translate(197.13 263.77) rotate(-90)" text-anchor="middle">Amplitude (V)</text>
</g>
<g>
<path d="M396.70 240.50V287.05M473.75 240.50V287.05M391.80 255.80H501.90M391.80 280.20H501.90" stroke="#000" stroke-opacity="0.8" stroke-width="0.55" stroke-dasharray="1.5 0.9" fill="none"/>
<path d="M395.99 256.12 L396.14 255.68 L396.30 255.31 L396.45 254.98 L396.61 254.75 L396.76 254.64 L396.91 254.65 L397.07 254.79 L397.22 255.01 L397.38 255.45 L397.53 255.84 L397.68 256.23 L397.84 256.57 L397.99 256.92 L398.15 257.23 L398.30 257.29 L398.45 257.24 L398.61 257.17 L398.76 256.92 L398.92 256.47 L399.07 256.11 L399.22 255.70 L399.38 255.26 L399.53 254.96 L399.69 254.77 L399.84 254.67 L399.99 254.69 L400.15 254.84 L400.30 255.08 L400.46 255.40 L400.61 255.80 L400.76 256.31 L400.92 256.70 L401.07 257.03 L401.23 257.15 L401.38 257.33 L401.53 257.23 L401.69 257.09 L401.84 256.80 L402.00 256.53 L402.15 256.11 L402.30 255.70 L402.46 255.26 L402.61 255.01 L402.77 254.71 L402.92 254.66 L403.07 254.71 L403.23 254.82 L403.38 255.11 L403.54 255.44 L403.69 255.93 L403.84 256.27 L404.00 256.65 L404.15 256.98 L404.31 257.23 L404.46 257.32 L404.61 257.26 L404.77 257.13 L404.92 256.84 L405.08 256.41 L405.23 256.04 L405.38 255.58 L405.54 255.21 L405.69 254.89 L405.85 254.66 L406.00 254.60 L406.15 254.71 L406.31 254.85 L406.46 255.05 L406.62 255.42 L406.77 255.87 L406.92 256.27 L407.08 256.57 L407.23 256.88 L407.39 257.12 L407.54 257.19 L407.69 257.06 L407.85 256.95 L408.00 256.59 L408.16 256.25 L408.31 255.82 L408.46 255.37 L408.62 255.06 L408.77 254.69 L408.93 254.49 L409.08 254.42 L409.23 254.51 L409.39 254.70 L409.54 254.96 L409.70 255.29 L409.85 255.72 L410.00 256.11 L410.16 256.51 L410.31 256.80 L410.47 256.95 L410.62 256.94 L410.77 256.86 L410.93 256.59 L411.08 256.20 L411.24 255.83 L411.39 255.29 L411.54 254.87 L411.70 254.42 L411.85 254.06 L412.01 253.84 L412.16 253.73 L412.31 253.77 L412.47 253.91 L412.62 254.13 L412.78 254.38 L412.93 254.78 L413.08 255.11 L413.24 255.47 L413.39 255.64 L413.55 255.74 L413.70 255.69 L413.85 255.60 L414.01 255.35 L414.16 254.97 L414.32 254.52 L414.47 254.10 L414.62 253.59 L414.78 253.20 L414.93 252.90 L415.09 252.67 L415.24 252.60 L415.39 252.64 L415.55 252.79 L415.70 253.02 L415.86 253.35 L416.01 253.78 L416.16 254.19 L416.32 254.43 L416.47 254.66 L416.63 254.78 L416.78 254.82 L416.93 254.65 L417.09 254.43 L417.24 253.97 L417.40 253.57 L417.55 253.13 L417.70 252.71 L417.86 252.33 L418.01 252.02 L418.17 251.90 L418.32 251.77 L418.47 251.86 L418.63 252.09 L418.78 252.34 L418.94 252.69 L419.09 253.11 L419.24 253.42 L419.40 253.71 L419.55 254.06 L419.71 254.13 L419.86 254.13 L420.01 253.94 L420.17 253.76 L420.32 253.36 L420.48 252.97 L420.63 252.48 L420.78 252.12 L420.94 251.68 L421.09 251.37 L421.25 251.27 L421.40 251.99 L421.55 252.01 L421.71 252.08 L421.86 252.23 L422.02 252.23 L422.17 252.36 L422.32 252.74 L422.48 253.55 L422.63 254.45 L422.79 255.31 L422.94 256.08 L423.09 256.74 L423.25 257.27 L423.40 257.94 L423.56 258.43 L423.71 258.66 L423.86 258.56 L424.02 258.56 L424.17 258.50 L424.33 258.50 L424.48 258.57 L424.63 258.73 L424.79 258.84 L424.94 259.04 L425.10 259.36 L425.25 259.56 L425.40 259.83 L425.56 259.96 L425.71 260.17 L425.87 260.31 L426.02 260.36 L426.17 260.43 L426.33 260.51 L426.48 260.46 L426.64 260.36 L426.79 260.15 L426.94 259.97 L427.10 259.78 L427.25 259.58 L427.41 259.39 L427.56 259.41 L427.71 259.30 L427.87 259.32 L428.02 259.31 L428.18 259.34 L428.33 259.34 L428.48 259.31 L428.64 259.28 L428.79 259.16 L428.95 259.12 L429.10 258.94 L429.25 258.71 L429.41 258.43 L429.56 258.05 L429.72 257.64 L429.87 257.23 L430.02 256.72 L430.18 256.37 L430.33 256.03 L430.49 255.69 L430.64 255.53 L430.79 255.52 L430.95 255.45 L431.10 255.54 L431.26 255.66 L431.41 255.72 L431.56 255.72 L431.72 255.72 L431.87 255.76 L432.03 255.60 L432.18 255.31 L432.33 254.88 L432.49 254.49 L432.64 253.93 L432.80 252.52 L432.95 251.29 L433.10 249.93 L433.26 248.75 L433.41 247.83 L433.57 247.09 L433.72 246.24 L433.87 245.61 L434.03 245.10 L434.18 244.85 L434.34 244.63 L434.49 244.42 L434.64 244.23 L434.80 244.05 L434.95 243.71 L435.11 243.56 L435.26 243.23 L435.41 243.00 L435.57 242.68 L435.72 242.76 L435.88 243.06 L436.03 243.28 L436.18 243.52 L436.34 244.04 L436.49 244.72 L436.65 245.39 L436.80 246.17 L436.95 246.97 L437.11 247.71 L437.26 248.50 L437.42 249.30 L437.57 250.06 L437.72 250.73 L437.88 251.29 L438.03 251.98 L438.19 252.55 L438.34 253.28 L438.49 254.31 L438.65 255.19 L438.80 256.31 L438.96 258.23 L439.11 260.12 L439.26 262.12 L439.42 264.58 L439.57 267.10 L439.73 269.54 L439.88 272.13 L440.03 274.87 L440.19 277.45 L440.34 279.59 L440.50 281.35 L440.65 282.94 L440.80 284.30 L440.96 284.62 L441.11 284.86 L441.27 284.98 L441.42 283.14 L441.57 281.40 L441.73 279.55 L441.88 277.03 L442.04 274.29 L442.19 271.53 L442.34 269.14 L442.50 267.03 L442.65 264.84 L442.81 263.17 L442.96 262.36 L443.11 261.65 L443.27 260.88 L443.42 260.15 L443.58 260.55 L443.73 260.83 L443.88 261.11 L444.04 261.43 L444.19 261.72 L444.35 261.84 L444.50 261.98 L444.65 262.08 L444.81 262.18 L444.96 262.01 L445.12 261.42 L445.27 260.94 L445.42 260.40 L445.58 259.93 L445.73 259.68 L445.89 259.38 L446.04 259.26 L446.19 259.10 L446.35 259.04 L446.50 258.99 L446.66 258.96 L446.81 259.07 L446.96 259.11 L447.12 259.15 L447.27 259.19 L447.43 259.16 L447.58 259.04 L447.73 258.83 L447.89 258.48 L448.04 258.13 L448.20 257.76 L448.35 257.48 L448.50 257.16 L448.66 256.91 L448.81 256.65 L448.97 255.64 L449.12 255.68 L449.27 255.70 L449.43 256.00 L449.58 256.25 L449.74 256.51 L449.89 256.82 L450.04 257.17 L450.20 257.36 L450.35 257.52 L450.51 257.58 L450.66 257.45 L450.81 257.20 L450.97 256.80 L451.12 256.41 L451.28 255.97 L451.43 255.52 L451.58 255.21 L451.74 254.91 L451.89 254.78 L452.05 254.68 L452.20 254.81 L452.35 254.97 L452.51 255.30 L452.66 255.66 L452.82 256.10 L452.97 256.56 L453.12 256.86 L453.28 257.07 L453.43 257.26 L453.59 257.26 L453.74 257.20 L453.89 256.96 L454.05 256.63 L454.20 256.29 L454.36 255.86 L454.51 255.37 L454.66 255.02 L454.82 254.84 L454.97 254.68 L455.13 254.67 L455.28 254.77 L455.43 254.95 L455.59 255.33 L455.74 255.77 L455.90 256.16 L456.05 256.49 L456.20 256.85 L456.36 257.20 L456.51 257.29 L456.67 257.25 L456.82 257.20 L456.97 256.98 L457.13 256.64 L457.28 256.22 L457.44 255.82 L457.59 255.34 L457.74 255.04 L457.90 254.83 L458.05 254.64 L458.21 254.62 L458.36 254.83 L458.51 255.06 L458.67 255.31 L458.82 255.71 L458.98 256.19 L459.13 256.63 L459.28 256.92 L459.44 257.18 L459.59 257.21 L459.75 257.26 L459.90 257.07 L460.05 256.83 L460.21 256.46 L460.36 256.09 L460.52 255.61 L460.67 255.28 L460.82 254.94 L460.98 254.72 L461.13 254.58 L461.29 254.50 L461.44 254.72 L461.59 254.93 L461.75 255.31 L461.90 255.65 L462.06 256.02 L462.21 256.48 L462.36 256.74 L462.52 257.06 L462.67 257.11 L462.83 257.13 L462.98 256.93 L463.13 256.64 L463.29 256.33 L463.44 255.92 L463.60 255.47 L463.75 255.05 L463.90 254.73 L464.06 254.53 L464.21 254.35 L464.37 254.36 L464.52 254.54 L464.67 254.82 L464.83 255.09 L464.98 255.51 L465.14 256.01 L465.29 256.30 L465.44 256.68 L465.60 256.83 L465.75 256.88 L465.91 256.87 L466.06 256.73 L466.21 256.42 L466.37 255.94 L466.52 255.58 L466.68 255.13 L466.83 254.69 L466.98 254.36 L467.14 254.10 L467.29 253.93 L467.45 253.99 L467.60 254.06 L467.75 254.32 L467.91 254.71 L468.06 255.06 L468.22 255.44 L468.37 255.81 L468.52 256.07 L468.68 256.24 L468.83 256.32 L468.99 256.19 L469.14 256.03 L469.29 255.68 L469.45 255.40 L469.60 254.95 L469.76 254.48 L469.91 254.00 L470.06 253.75 L470.22 253.44 L470.37 253.39 L470.53 253.38 L470.68 253.52 L470.83 253.79 L470.99 254.07 L471.14 254.51 L471.30 254.86 L471.45 255.24 L471.60 255.52 L471.76 255.62 L471.91 255.69 L472.07 255.60 L472.22 255.36 L472.37 255.13 L472.53 254.71 L472.68 254.25 L472.84 253.81 L472.99 253.44 L473.14 253.01 L473.30 252.82 L473.45 252.75 L473.61 252.76 L473.76 252.91 L473.91 253.15 L474.07 253.51 L474.22 253.96 L474.38 254.33 L474.53 254.76 L474.68 255.05 L474.84 255.24 L474.99 255.21 L475.15 255.16 L475.30 254.91 L475.45 254.64 L475.61 254.22 L475.76 253.84 L475.92 253.48 L476.07 253.07 L476.22 252.72 L476.38 252.51 L476.53 252.52 L476.69 252.48 L476.84 252.76 L476.99 253.05 L477.15 253.32 L477.30 253.83 L477.46 254.20 L477.61 254.52 L477.76 254.81 L477.92 255.00 L478.07 255.03 L478.23 254.99 L478.38 254.78 L478.53 254.39 L478.69 253.97 L478.84 253.63 L479.00 253.22 L479.15 252.88 L479.30 252.54 L479.46 252.39 L479.61 252.46 L479.77 252.50 L479.92 252.74 L480.07 253.13 L480.23 253.44 L480.38 253.93 L480.54 254.29 L480.69 254.73 L480.84 255.06 L481.00 255.18 L481.15 255.31 L481.31 255.27 L481.46 255.06 L481.61 254.76 L481.77 254.42 L481.92 253.99 L482.08 253.58 L482.23 253.28 L482.38 253.02 L482.54 252.86 L482.69 252.85 L482.85 252.90 L483.00 253.16 L483.15 253.50 L483.31 253.97 L483.46 254.40 L483.62 254.77 L483.77 255.23 L483.92 255.41 L484.08 255.58 L484.23 255.67 L484.39 255.55 L484.54 255.46 L484.69 255.09 L484.85 254.72 L485.00 254.38 L485.16 253.96 L485.31 253.64 L485.46 253.37 L485.62 253.24 L485.77 253.30 L485.93 253.34 L486.08 253.62 L486.23 253.96 L486.39 254.33 L486.54 254.77 L486.70 255.24 L486.85 255.64 L487.00 255.88 L487.16 256.00 L487.31 256.15 L487.47 255.96 L487.62 255.83 L487.77 255.42 L487.93 255.12 L488.08 254.67 L488.24 254.30 L488.39 253.99 L488.54 253.80 L488.70 253.64 L488.85 253.65 L489.01 253.77 L489.16 254.04 L489.31 254.35 L489.47 254.84 L489.62 255.18 L489.78 255.58 L489.93 255.98 L490.08 256.22 L490.24 256.41 L490.39 256.34 L490.55 256.30 L490.70 256.03 L490.85 255.77 L491.01 255.31 L491.16 254.92 L491.32 254.52 L491.47 254.21 L491.62 253.95 L491.78 253.88 L491.93 253.86 L492.09 254.03 L492.24 254.24 L492.39 254.61 L492.55 255.04 L492.70 255.48 L492.86 255.88 L493.01 256.20 L493.16 256.41 L493.32 256.55 L493.47 256.55 L493.63 256.43 L493.78 256.19 L493.93 255.90 L494.09 255.44 L494.24 255.08 L494.40 254.59 L494.55 254.25 L494.70 253.99 L494.86 253.85 L495.01 253.92 L495.17 254.03 L495.32 254.24 L495.47 254.64 L495.63 255.01 L495.78 255.39 L495.94 255.79 L496.09 256.11 L496.24 256.30 L496.40 256.35 L496.55 256.35 L496.71 256.26 L496.86 255.91 L497.01 255.58 L497.17 255.09 L497.32 254.74 L497.48 254.35" stroke="#b22222" stroke-width="1.7" fill="none" stroke-linejoin="round" stroke-linecap="square"/>
<path d="M396.70 287.05v4.4M473.75 287.05v4.4M391.80 255.80h-4.4M391.80 280.20h-4.4" stroke="#000" stroke-width="0.95" fill="none"/>
<rect x="391.80" y="240.50" width="110.10" height="46.55" fill="none" stroke="#000" stroke-width="1.0"/>
<text x="396.70" y="303.15" text-anchor="middle">0</text>
<text x="473.75" y="303.15" text-anchor="middle">500</text>
<text x="382.80" y="259.60" text-anchor="end">0</text>
<text x="382.80" y="284.00" text-anchor="end">−5</text>
<text x="446.85" y="233.10" text-anchor="middle">Posterior Lateral (PL)</text>
<text x="446.85" y="317.05" text-anchor="middle">Sample</text>
<text transform="translate(363.60 263.77) rotate(-90)" text-anchor="middle">Amplitude (V)</text>
</g>
</svg>
</body></html>
